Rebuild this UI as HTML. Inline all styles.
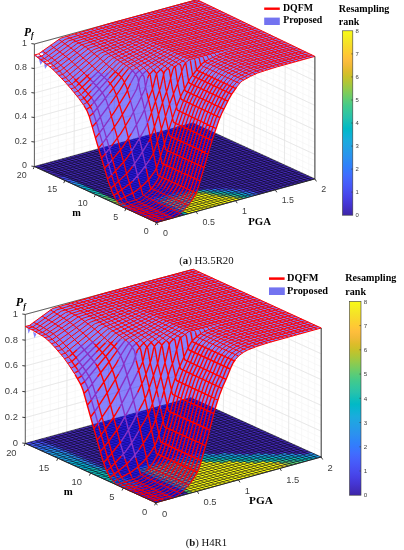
<!DOCTYPE html>
<html lang="en">
<head>
<meta charset="utf-8">
<title>Fragility surfaces: DQFM vs Proposed</title>
<style>
html,body{margin:0;padding:0;background:#fff;}
body{width:404px;height:550px;overflow:hidden;font-family:"Liberation Sans",sans-serif;}
svg{display:block;}
</style>
</head>
<body>
<svg width="404" height="550" viewBox="0 0 404 550">
<defs><linearGradient id="par" x1="0" y1="1" x2="0" y2="0"><stop offset="0%" stop-color="#3e26a8"/><stop offset="3.1%" stop-color="#422ebf"/><stop offset="6.2%" stop-color="#4536d5"/><stop offset="9.4%" stop-color="#4741e5"/><stop offset="12.5%" stop-color="#484cef"/><stop offset="15.6%" stop-color="#4757f7"/><stop offset="18.8%" stop-color="#4562fc"/><stop offset="21.9%" stop-color="#3f6efe"/><stop offset="25%" stop-color="#347afd"/><stop offset="28.1%" stop-color="#2e85f8"/><stop offset="31.2%" stop-color="#2c90f0"/><stop offset="34.4%" stop-color="#269ae9"/><stop offset="37.5%" stop-color="#21a3e3"/><stop offset="40.6%" stop-color="#1aacdd"/><stop offset="43.8%" stop-color="#0cb3d3"/><stop offset="46.9%" stop-color="#01b9c6"/><stop offset="50%" stop-color="#12beb9"/><stop offset="53.1%" stop-color="#28c2ab"/><stop offset="56.2%" stop-color="#34c79c"/><stop offset="59.4%" stop-color="#44ca8a"/><stop offset="62.5%" stop-color="#5ccc76"/><stop offset="65.6%" stop-color="#77cc60"/><stop offset="68.8%" stop-color="#94ca4a"/><stop offset="71.9%" stop-color="#afc637"/><stop offset="75%" stop-color="#c8c129"/><stop offset="78.1%" stop-color="#debc2a"/><stop offset="81.2%" stop-color="#f1ba37"/><stop offset="84.4%" stop-color="#febe3c"/><stop offset="87.5%" stop-color="#feca33"/><stop offset="90.6%" stop-color="#f9d62d"/><stop offset="93.8%" stop-color="#f5e327"/><stop offset="96.9%" stop-color="#f6ef20"/><stop offset="100%" stop-color="#f9fb15"/></linearGradient></defs>
<rect width="404" height="550" fill="#fff"/>
<g id="plot-a">
<path d="M34.4 166.5L34.4 44M42.3 164.3L42.5 41.8M50.2 162.1L50.7 39.6M58.2 160L58.8 37.4M66.1 157.8L66.9 35.1M74 155.6L75 32.9M81.9 153.4L83.2 30.7M89.8 151.2L91.3 28.5M97.8 149.1L99.4 26.3M105.7 146.9L107.6 24.1M113.6 144.7L115.7 21.8M121.5 142.5L123.8 19.6M129.4 140.3L132 17.4M137.4 138.2L140.1 15.2M145.3 136L148.2 13M153.2 133.8L156.3 10.8M161.1 131.6L164.5 8.5M169 129.4L172.6 6.3M177 127.3L180.7 4.1M184.9 125.1L188.9 1.9M192.8 122.9L197 -0.3M34.4 166.5L192.8 122.9M192.8 122.9L314.9 178.9M34.4 160.4L193 116.7M193 116.7L314.9 172.8M34.4 154.2L193.2 110.6M193.2 110.6L314.9 166.7M34.4 148.1L193.4 104.4M193.4 104.4L314.9 160.5M34.4 142L193.6 98.3M193.6 98.3L314.9 154.4M34.4 135.9L193.8 92.1M193.8 92.1L314.9 148.3M34.4 129.8L194.1 85.9M194.1 85.9L314.9 142.2M34.4 123.6L194.3 79.8M194.3 79.8L314.9 136M34.4 117.5L194.5 73.6M194.5 73.6L314.9 129.9M34.4 111.4L194.7 67.5M194.7 67.5L314.9 123.8M34.4 105.2L194.9 61.3M194.9 61.3L314.9 117.7M34.4 99.1L195.1 55.1M195.1 55.1L314.9 111.5M34.4 93L195.3 49M195.3 49L314.9 105.4M34.4 86.9L195.5 42.8M195.5 42.8L314.9 99.3M34.4 80.7L195.7 36.6M195.7 36.6L314.9 93.1M34.4 74.6L195.9 30.5M195.9 30.5L314.9 87M34.4 68.5L196.2 24.3M196.2 24.3L314.9 80.9M34.4 62.4L196.4 18.2M196.4 18.2L314.9 74.8M34.4 56.2L196.6 12M196.6 12L314.9 68.7M34.4 50.1L196.8 5.8M196.8 5.8L314.9 62.5M34.4 44L197 -0.3M197 -0.3L314.9 56.4M314.9 178.9L314.9 56.4M308.8 176.1L309 53.6M302.7 173.3L303.1 50.7M296.6 170.5L297.2 47.9M290.5 167.7L291.3 45.1M284.4 164.9L285.4 42.2M278.3 162.1L279.5 39.4M272.2 159.3L273.6 36.5M266.1 156.5L267.7 33.7M260 153.7L261.8 30.9M253.8 150.9L255.9 28M247.7 148.1L250.1 25.2M241.6 145.3L244.2 22.4M235.5 142.5L238.3 19.5M229.4 139.7L232.4 16.7M223.3 136.9L226.5 13.9M217.2 134.1L220.6 11M211.1 131.3L214.7 8.2M205 128.5L208.8 5.4M198.9 125.7L202.9 2.5M192.8 122.9L197 -0.3" stroke="#f3f3f3" stroke-width=".6" fill="none"/>
<path d="M34.4 166.5L34.4 44M74 155.6L75 32.9M113.6 144.7L115.7 21.8M153.2 133.8L156.3 10.8M192.8 122.9L197 -0.3M34.4 166.5L192.8 122.9M192.8 122.9L314.9 178.9M34.4 142L193.6 98.3M193.6 98.3L314.9 154.4M34.4 117.5L194.5 73.6M194.5 73.6L314.9 129.9M34.4 93L195.3 49M195.3 49L314.9 105.4M34.4 68.5L196.2 24.3M196.2 24.3L314.9 80.9M34.4 44L197 -0.3M197 -0.3L314.9 56.4M314.9 178.9L314.9 56.4M284.4 164.9L285.4 42.2M253.8 150.9L255.9 28M223.3 136.9L226.5 13.9M192.8 122.9L197 -0.3" stroke="#e2e2e2" stroke-width=".7" fill="none"/>
<polygon points="156.5,222.5 34.4,166.5 192.8,122.9 314.9,178.9" fill="#4329b6"/>
<polygon points="184.2,214.9 188.2,213.8 185.1,212.4 181.2,213.5" fill="#12beb9"/>
<polygon points="188.2,213.8 239.7,199.6 236.6,198.2 185.1,212.4" fill="#f9fb15"/>
<polygon points="239.7,199.6 243.6,198.5 240.6,197.1 236.6,198.2" fill="#94ca4a"/>
<polygon points="243.6,198.5 247.6,197.4 244.5,196 240.6,197.1" fill="#34c79c"/>
<polygon points="247.6,197.4 251.5,196.3 248.5,194.9 244.5,196" fill="#0cb3d3"/>
<polygon points="251.5,196.3 255.5,195.2 252.4,193.8 248.5,194.9" fill="#2c90f0"/>
<polygon points="255.5,195.2 259.5,194.2 256.4,192.8 252.4,193.8" fill="#4562fc"/>
<polygon points="181.2,213.5 185.1,212.4 182.1,211 178.1,212.1" fill="#12beb9"/>
<polygon points="185.1,212.4 236.6,198.2 233.6,196.8 182.1,211" fill="#f9fb15"/>
<polygon points="236.6,198.2 240.6,197.1 237.5,195.7 233.6,196.8" fill="#5ccc76"/>
<polygon points="240.6,197.1 244.5,196 241.5,194.6 237.5,195.7" fill="#12beb9"/>
<polygon points="244.5,196 248.5,194.9 245.4,193.5 241.5,194.6" fill="#0cb3d3"/>
<polygon points="248.5,194.9 252.4,193.8 249.4,192.4 245.4,193.5" fill="#2c90f0"/>
<polygon points="252.4,193.8 256.4,192.8 253.4,191.4 249.4,192.4" fill="#4562fc"/>
<polygon points="178.1,212.1 182.1,211 179,209.6 175.1,210.7" fill="#12beb9"/>
<polygon points="182.1,211 229.6,197.9 226.5,196.5 179,209.6" fill="#f9fb15"/>
<polygon points="229.6,197.9 233.6,196.8 230.5,195.4 226.5,196.5" fill="#94ca4a"/>
<polygon points="233.6,196.8 237.5,195.7 234.5,194.3 230.5,195.4" fill="#34c79c"/>
<polygon points="237.5,195.7 241.5,194.6 238.4,193.2 234.5,194.3" fill="#12beb9"/>
<polygon points="241.5,194.6 245.4,193.5 242.4,192.1 238.4,193.2" fill="#21a3e3"/>
<polygon points="245.4,193.5 249.4,192.4 246.3,191.1 242.4,192.1" fill="#347afd"/>
<polygon points="249.4,192.4 253.4,191.4 250.3,190 246.3,191.1" fill="#484cef"/>
<polygon points="175.1,210.7 179,209.6 176,208.2 172,209.3" fill="#12beb9"/>
<polygon points="179,209.6 222.6,197.6 219.5,196.2 176,208.2" fill="#f9fb15"/>
<polygon points="222.6,197.6 226.5,196.5 223.5,195.1 219.5,196.2" fill="#94ca4a"/>
<polygon points="226.5,196.5 230.5,195.4 227.4,194 223.5,195.1" fill="#5ccc76"/>
<polygon points="230.5,195.4 234.5,194.3 231.4,192.9 227.4,194" fill="#12beb9"/>
<polygon points="234.5,194.3 238.4,193.2 235.4,191.8 231.4,192.9" fill="#0cb3d3"/>
<polygon points="238.4,193.2 242.4,192.1 239.3,190.7 235.4,191.8" fill="#2c90f0"/>
<polygon points="242.4,192.1 246.3,191.1 243.3,189.7 239.3,190.7" fill="#4562fc"/>
<polygon points="246.3,191.1 250.3,190 247.2,188.6 243.3,189.7" fill="#4536d5"/>
<polygon points="172,209.3 176,208.2 172.9,206.8 169,207.9" fill="#12beb9"/>
<polygon points="176,208.2 219.5,196.2 216.5,194.8 172.9,206.8" fill="#f9fb15"/>
<polygon points="219.5,196.2 223.5,195.1 220.4,193.7 216.5,194.8" fill="#5ccc76"/>
<polygon points="223.5,195.1 227.4,194 224.4,192.6 220.4,193.7" fill="#34c79c"/>
<polygon points="227.4,194 231.4,192.9 228.4,191.5 224.4,192.6" fill="#0cb3d3"/>
<polygon points="231.4,192.9 235.4,191.8 232.3,190.4 228.4,191.5" fill="#21a3e3"/>
<polygon points="235.4,191.8 239.3,190.7 236.3,189.3 232.3,190.4" fill="#347afd"/>
<polygon points="239.3,190.7 243.3,189.7 240.2,188.2 236.3,189.3" fill="#484cef"/>
<polygon points="169,207.9 172.9,206.8 169.9,205.4 165.9,206.5" fill="#12beb9"/>
<polygon points="172.9,206.8 212.5,195.9 209.5,194.5 169.9,205.4" fill="#f9fb15"/>
<polygon points="212.5,195.9 216.5,194.8 213.4,193.4 209.5,194.5" fill="#94ca4a"/>
<polygon points="216.5,194.8 220.4,193.7 217.4,192.3 213.4,193.4" fill="#34c79c"/>
<polygon points="220.4,193.7 224.4,192.6 221.3,191.2 217.4,192.3" fill="#12beb9"/>
<polygon points="224.4,192.6 228.4,191.5 225.3,190.1 221.3,191.2" fill="#21a3e3"/>
<polygon points="228.4,191.5 232.3,190.4 229.3,189 225.3,190.1" fill="#347afd"/>
<polygon points="232.3,190.4 236.3,189.3 233.2,187.9 229.3,189" fill="#484cef"/>
<polygon points="165.9,206.5 169.9,205.4 166.8,204 162.9,205.1" fill="#12beb9"/>
<polygon points="169.9,205.4 209.5,194.5 206.4,193.1 166.8,204" fill="#f9fb15"/>
<polygon points="209.5,194.5 213.4,193.4 210.4,192 206.4,193.1" fill="#5ccc76"/>
<polygon points="213.4,193.4 217.4,192.3 214.3,190.9 210.4,192" fill="#12beb9"/>
<polygon points="217.4,192.3 221.3,191.2 218.3,189.8 214.3,190.9" fill="#21a3e3"/>
<polygon points="221.3,191.2 225.3,190.1 222.3,188.7 218.3,189.8" fill="#347afd"/>
<polygon points="225.3,190.1 229.3,189 226.2,187.6 222.3,188.7" fill="#484cef"/>
<polygon points="162.9,205.1 166.8,204 163.8,202.6 159.8,203.7" fill="#12beb9"/>
<polygon points="166.8,204 202.5,194.2 199.4,192.8 163.8,202.6" fill="#f9fb15"/>
<polygon points="202.5,194.2 206.4,193.1 203.4,191.7 199.4,192.8" fill="#94ca4a"/>
<polygon points="206.4,193.1 210.4,192 207.3,190.6 203.4,191.7" fill="#34c79c"/>
<polygon points="210.4,192 214.3,190.9 211.3,189.5 207.3,190.6" fill="#21a3e3"/>
<polygon points="214.3,190.9 218.3,189.8 215.2,188.4 211.3,189.5" fill="#347afd"/>
<polygon points="218.3,189.8 222.3,188.7 219.2,187.3 215.2,188.4" fill="#4536d5"/>
<polygon points="159.8,203.7 163.8,202.6 160.7,201.2 156.7,202.3" fill="#12beb9"/>
<polygon points="163.8,202.6 195.4,193.9 192.4,192.5 160.7,201.2" fill="#f9fb15"/>
<polygon points="195.4,193.9 199.4,192.8 196.3,191.4 192.4,192.5" fill="#94ca4a"/>
<polygon points="199.4,192.8 203.4,191.7 200.3,190.3 196.3,191.4" fill="#34c79c"/>
<polygon points="203.4,191.7 207.3,190.6 204.3,189.2 200.3,190.3" fill="#21a3e3"/>
<polygon points="207.3,190.6 211.3,189.5 208.2,188.1 204.3,189.2" fill="#484cef"/>
<polygon points="129,209.9 134.6,208.4 131.5,207 126,208.5" fill="#484cef"/>
<polygon points="156.7,202.3 160.7,201.2 157.7,199.8 153.7,200.9" fill="#2c90f0"/>
<polygon points="160.7,201.2 192.4,192.5 189.3,191.1 157.7,199.8" fill="#5ccc76"/>
<polygon points="192.4,192.5 196.3,191.4 193.3,190 189.3,191.1" fill="#12beb9"/>
<polygon points="196.3,191.4 200.3,190.3 197.3,188.9 193.3,190" fill="#4562fc"/>
<polygon points="126,208.5 131.5,207 128.5,205.6 122.9,207.1" fill="#21a3e3"/>
<polygon points="153.7,200.9 157.7,199.8 154.6,198.4 150.6,199.5" fill="#4562fc"/>
<polygon points="157.7,199.8 181.4,193.2 178.4,191.8 154.6,198.4" fill="#21a3e3"/>
<polygon points="181.4,193.2 185.4,192.2 182.3,190.8 178.4,191.8" fill="#2c90f0"/>
<polygon points="122.9,207.1 128.5,205.6 125.4,204.2 119.9,205.7" fill="#34c79c"/>
<polygon points="150.6,199.5 154.6,198.4 151.6,197 147.6,198.1" fill="#4536d5"/>
<polygon points="154.6,198.4 158.6,197.3 155.5,195.9 151.6,197" fill="#484cef"/>
<polygon points="119.9,205.7 125.4,204.2 122.4,202.8 116.8,204.3" fill="#94ca4a"/>
<polygon points="116.8,204.3 122.4,202.8 119.3,201.4 113.8,202.9" fill="#94ca4a"/>
<polygon points="113.8,202.9 119.3,201.4 116.3,200 110.7,201.5" fill="#94ca4a"/>
<polygon points="110.7,201.5 116.3,200 113.2,198.6 107.7,200.1" fill="#5ccc76"/>
<polygon points="107.7,200.1 113.2,198.6 110.2,197.2 104.6,198.7" fill="#5ccc76"/>
<polygon points="104.6,198.7 110.2,197.2 107.1,195.8 101.6,197.3" fill="#5ccc76"/>
<polygon points="101.6,197.3 107.1,195.8 104,194.4 98.5,195.9" fill="#34c79c"/>
<polygon points="98.5,195.9 104,194.4 101,193 95.5,194.5" fill="#34c79c"/>
<polygon points="95.5,194.5 101,193 97.9,191.6 92.4,193.1" fill="#12beb9"/>
<polygon points="92.4,193.1 97.9,191.6 94.9,190.2 89.3,191.7" fill="#12beb9"/>
<polygon points="89.3,191.7 94.9,190.2 91.8,188.8 86.3,190.3" fill="#12beb9"/>
<polygon points="86.3,190.3 91.8,188.8 88.8,187.4 83.2,188.9" fill="#0cb3d3"/>
<polygon points="83.2,188.9 88.8,187.4 85.7,186 80.2,187.5" fill="#0cb3d3"/>
<polygon points="80.2,187.5 85.7,186 82.7,184.6 77.1,186.1" fill="#21a3e3"/>
<polygon points="77.1,186.1 82.7,184.6 79.6,183.2 74.1,184.7" fill="#21a3e3"/>
<polygon points="74.1,184.7 79.6,183.2 76.6,181.8 71,183.3" fill="#2c90f0"/>
<polygon points="71,183.3 76.6,181.8 73.5,180.4 68,181.9" fill="#347afd"/>
<polygon points="68,181.9 73.5,180.4 70.5,179 64.9,180.5" fill="#4562fc"/>
<polygon points="64.9,180.5 70.5,179 67.4,177.6 61.9,179.1" fill="#484cef"/>
<polygon points="61.9,179.1 67.4,177.6 64.4,176.2 58.8,177.7" fill="#484cef"/>
<path d="M156.5 222.5L34.4 166.5M162 221L39.9 165M164.4 220.3L42.3 164.3M168.4 219.2L46.3 163.2M172.3 218.1L50.2 162.1M176.3 217.1L54.2 161.1M180.3 216L58.2 160M184.2 214.9L62.1 158.9M188.2 213.8L66.1 157.8M192.1 212.7L70 156.7M196.1 211.6L74 155.6M200.1 210.5L78 154.5M204 209.4L81.9 153.4M208 208.3L85.9 152.3M211.9 207.2L89.8 151.2M215.9 206.2L93.8 150.2M219.9 205.1L97.8 149.1M223.8 204L101.7 148M227.8 202.9L105.7 146.9M231.7 201.8L109.6 145.8M235.7 200.7L113.6 144.7M239.7 199.6L117.6 143.6M243.6 198.5L121.5 142.5M247.6 197.4L125.5 141.4M251.5 196.3L129.4 140.3M255.5 195.2L133.4 139.2M259.5 194.2L137.4 138.2M263.4 193.1L141.3 137.1M267.4 192L145.3 136M271.3 190.9L149.2 134.9M275.3 189.8L153.2 133.8M279.3 188.7L157.2 132.7M283.2 187.6L161.1 131.6M287.2 186.5L165.1 130.5M291.1 185.4L169 129.4M295.1 184.4L173 128.4M299.1 183.3L177 127.3M303 182.2L180.9 126.2M307 181.1L184.9 125.1M310.9 180L188.8 124M314.9 178.9L192.8 122.9M156.5 222.5L314.9 178.9M153.4 221.1L311.8 177.5M150.4 219.7L308.8 176.1M147.3 218.3L305.7 174.7M144.3 216.9L302.7 173.3M141.2 215.5L299.6 171.9M138.2 214.1L296.6 170.5M135.1 212.7L293.5 169.1M132.1 211.3L290.5 167.7M129 209.9L287.4 166.3M126 208.5L284.4 164.9M122.9 207.1L281.3 163.5M119.9 205.7L278.3 162.1M116.8 204.3L275.2 160.7M113.8 202.9L272.2 159.3M110.7 201.5L269.1 157.9M107.7 200.1L266.1 156.5M104.6 198.7L263 155.1M101.6 197.3L260 153.7M98.5 195.9L256.9 152.3M95.5 194.5L253.8 150.9M92.4 193.1L250.8 149.5M89.3 191.7L247.7 148.1M86.3 190.3L244.7 146.7M83.2 188.9L241.6 145.3M80.2 187.5L238.6 143.9M77.1 186.1L235.5 142.5M74.1 184.7L232.5 141.1M71 183.3L229.4 139.7M68 181.9L226.4 138.3M64.9 180.5L223.3 136.9M61.9 179.1L220.3 135.5M58.8 177.7L217.2 134.1M55.8 176.3L214.2 132.7M52.7 174.9L211.1 131.3M49.7 173.5L208.1 129.9M46.6 172.1L205 128.5M43.6 170.7L202 127.1M40.5 169.3L198.9 125.7M37.5 167.9L195.9 124.3M34.4 166.5L192.8 122.9" stroke="#000" stroke-opacity="0.72" stroke-width="0.7" fill="none"/>
<path d="M34.4 44L197 -0.3M34.4 166.5L34.4 44" stroke="#3c3c3c" stroke-width=".8" fill="none"/>
<polygon points="156.5,222.5 155.7,222.2 155,221.8 154.2,221.4 153.4,221.1 152.7,220.8 151.9,220.4 151.2,220.1 150.4,219.7 149.6,219.3 148.9,219 148.1,218.7 147.3,218.3 146.6,217.9 145.8,217.6 145.1,217.2 144.3,216.9 143.5,216.6 142.8,216.2 142,215.8 141.2,215.5 140.5,215.2 139.7,214.8 138.9,214.4 138.2,214.1 137.4,213.8 136.7,213.4 135.9,213.1 135.1,212.7 134.4,212.3 133.6,212 132.8,211.7 132.1,211.3 131.3,210.9 130.6,210.6 129.8,210.2 129,209.9 128.3,209.6 127.5,209.2 126.7,208.8 126,208.5 125.2,208.2 124.4,207.8 123.7,207.4 122.9,207.1 122.2,206.7 121.4,206 120.6,205.3 119.9,204.6 119.1,203.8 118.3,203 117.6,202 116.8,200.9 116.1,199.6 115.3,198.3 114.5,196.9 113.8,195.4 113,193.7 112.2,192 111.5,190.1 110.7,188.2 109.9,186.1 109.2,184 108.4,181.6 107.7,179 106.9,176.3 106.1,173.5 105.4,170.8 104.6,168.2 103.8,165.7 103.1,163.1 102.3,160.6 101.6,158.1 100.8,155.5 100,153.1 99.3,150.6 98.5,148.2 97.7,145.8 97,143.3 96.2,140.7 95.5,137.9 94.7,135.1 93.9,132.3 93.2,129.5 92.4,126.7 91.6,124.1 90.9,121.5 90.1,119 89.3,116.6 88.6,114.5 87.8,112.6 87.1,111 86.3,109.5 85.5,108.1 84.8,106.9 84,105.7 83.2,104.6 82.5,103.5 81.7,102.4 81,101.4 80.2,100.3 79.4,99.3 78.7,98.3 77.9,97.3 77.1,96.4 76.4,95.4 75.6,94.4 74.8,93.5 74.1,92.5 73.3,91.6 72.6,90.7 71.8,89.8 71,88.9 70.3,88 69.5,87.1 68.7,86.2 68,85.3 67.2,84.5 66.5,83.6 65.7,82.8 64.9,82 64.2,81.2 63.4,80.4 62.6,79.6 61.9,78.7 61.1,77.9 60.3,77.1 59.6,76.3 58.8,75.5 58.1,74.7 57.3,73.9 56.5,73.1 55.8,72.4 55,71.6 54.2,70.9 53.5,70.1 52.7,69.4 52,68.7 51.2,68 50.4,67.4 49.7,66.7 48.9,66.1 48.1,65.5 47.4,64.9 46.6,64.3 45.8,63.7 45.1,63.1 44.3,62.5 43.6,61.9 42.8,61.3 42,60.8 41.3,60.2 40.5,59.6 39.7,59.1 39,58.5 38.2,57.9 37.5,57.4 36.7,56.8 35.9,56.2 35.2,55.6 34.4,55 34.4,55 35.4,54.7 36.4,54.5 37.4,54.2 38.5,53.9 39.5,53.2 40.5,52.5 41.5,51.7 42.5,51 43.5,50.3 44.5,49.6 45.6,48.8 46.6,48.1 47.6,47.4 48.6,46.7 49.6,45.9 50.6,45.2 51.7,44.5 52.7,43.8 53.7,43 54.7,42.3 55.7,41.6 56.7,40.8 57.8,40.1 58.8,39.4 59.8,38.7 60.8,38.1 61.8,37.8 62.8,37.5 63.9,37.2 64.9,36.9 65.9,36.6 66.9,36.3 67.9,36 68.9,35.7 70,35.4 71,35.1 72,34.8 73,34.5 74,34.2 75,33.9 76.1,33.6 77.1,33.3 78.1,33 79.1,32.7 80.1,32.4 81.1,32 82.2,31.7 83.2,31.4 84.2,31.1 85.2,30.8 86.2,30.5 87.2,30.2 88.3,29.9 89.3,29.6 90.3,29.3 91.3,29 92.3,28.7 93.3,28.4 94.4,28.1 95.4,27.8 96.4,27.5 97.4,27.2 98.4,26.9 99.4,26.6 100.5,26.3 101.5,26 102.5,25.7 103.5,25.4 104.5,25.1 105.5,24.8 106.6,24.5 107.6,24.2 108.6,23.9 109.6,23.6 110.6,23.3 111.6,22.9 112.7,22.7 113.7,22.4 114.7,22.1 115.7,21.8 116.7,21.6 117.7,21.3 118.7,21 119.8,20.7 120.8,20.5 121.8,20.2 122.8,19.9 123.8,19.6 124.8,19.3 125.9,19.1 126.9,18.8 127.9,18.5 128.9,18.2 129.9,18 130.9,17.7 132,17.4 133,17.1 134,16.9 135,16.6 136,16.3 137,16 138.1,15.7 139.1,15.5 140.1,15.2 141.1,14.9 142.1,14.6 143.1,14.4 144.2,14.1 145.2,13.8 146.2,13.5 147.2,13.3 148.2,13 149.2,12.7 150.3,12.4 151.3,12.1 152.3,11.9 153.3,11.6 154.3,11.3 155.3,11 156.3,10.8 157.4,10.5 158.4,10.2 159.4,9.9 160.4,9.7 161.4,9.4 162.4,9.1 163.5,8.8 164.5,8.5 165.5,8.3 166.5,8 167.5,7.7 168.5,7.4 169.6,7.2 170.6,6.9 171.6,6.6 172.6,6.3 173.6,6.1 174.6,5.8 175.7,5.5 176.7,5.2 177.7,4.9 178.7,4.7 179.7,4.4 180.7,4.1 181.8,3.8 182.8,3.6 183.8,3.3 184.8,3 185.8,2.7 186.8,2.5 187.9,2.2 188.9,1.9 189.9,1.6 190.9,1.3 191.9,1.1 192.9,0.8 194,0.5 195,0.2 196,0 197,-0.3 197,-0.3 197.7,0 198.5,0.4 199.2,0.7 199.9,1.1 200.7,1.5 201.4,1.8 202.2,2.2 202.9,2.5 203.6,2.9 204.4,3.2 205.1,3.6 205.8,3.9 206.6,4.3 207.3,4.6 208.1,5 208.8,5.4 209.5,5.7 210.3,6.1 211,6.4 211.7,6.8 212.5,7.1 213.2,7.5 213.9,7.8 214.7,8.2 215.4,8.5 216.2,8.9 216.9,9.3 217.6,9.6 218.4,10 219.1,10.3 219.8,10.7 220.6,11 221.3,11.4 222.1,11.7 222.8,12.1 223.5,12.4 224.3,12.8 225,13.2 225.7,13.5 226.5,13.9 227.2,14.2 227.9,14.6 228.7,14.9 229.4,15.3 230.2,15.6 230.9,16 231.6,16.3 232.4,16.7 233.1,17.1 233.8,17.4 234.6,17.8 235.3,18.1 236.1,18.5 236.8,18.8 237.5,19.2 238.3,19.5 239,19.9 239.7,20.2 240.5,20.6 241.2,21 241.9,21.3 242.7,21.7 243.4,22 244.2,22.4 244.9,22.7 245.6,23.1 246.4,23.4 247.1,23.8 247.8,24.1 248.6,24.5 249.3,24.8 250.1,25.2 250.8,25.6 251.5,25.9 252.3,26.3 253,26.6 253.7,27 254.5,27.3 255.2,27.7 255.9,28 256.7,28.4 257.4,28.7 258.2,29.1 258.9,29.5 259.6,29.8 260.4,30.2 261.1,30.5 261.8,30.9 262.6,31.2 263.3,31.6 264.1,31.9 264.8,32.3 265.5,32.6 266.3,33 267,33.4 267.7,33.7 268.5,34.1 269.2,34.4 270,34.8 270.7,35.1 271.4,35.5 272.2,35.8 272.9,36.2 273.6,36.5 274.4,36.9 275.1,37.3 275.8,37.6 276.6,38 277.3,38.3 278.1,38.7 278.8,39 279.5,39.4 280.3,39.7 281,40.1 281.7,40.4 282.5,40.8 283.2,41.2 284,41.5 284.7,41.9 285.4,42.2 286.2,42.6 286.9,42.9 287.6,43.3 288.4,43.6 289.1,44 289.8,44.3 290.6,44.7 291.3,45.1 292.1,45.4 292.8,45.8 293.5,46.1 294.3,46.5 295,46.8 295.7,47.2 296.5,47.5 297.2,47.9 298,48.2 298.7,48.6 299.4,49 300.2,49.3 300.9,49.7 301.6,50 302.4,50.4 303.1,50.7 303.8,51.1 304.6,51.4 305.3,51.8 306.1,52.1 306.8,52.5 307.5,52.9 308.3,53.2 309,53.6 309.7,53.9 310.5,54.3 311.2,54.6 312,55 312.7,55.3 313.4,55.7 314.2,56 314.9,56.4 314.9,56.4 313.9,56.7 312.9,56.9 311.9,57.2 310.9,57.5 309.9,57.8 309,58 308,58.3 307,58.6 306,58.9 305,59.1 304,59.4 303,59.7 302,59.9 301,60.2 300,60.5 299.1,60.8 298.1,61 297.1,61.3 296.1,61.6 295.1,61.9 294.1,62.1 293.1,62.4 292.1,62.7 291.1,62.9 290.1,63.2 289.2,63.5 288.2,63.8 287.2,64 286.2,64.3 285.2,64.6 284.2,64.8 283.2,65.1 282.2,65.4 281.2,65.7 280.2,66 279.3,66.2 278.3,66.5 277.3,66.8 276.3,67.1 275.3,67.4 274.3,67.7 273.3,68 272.3,68.3 271.3,68.6 270.3,68.9 269.4,69.2 268.4,69.5 267.4,69.8 266.4,70.1 265.4,70.4 264.4,70.8 263.4,71.1 262.4,71.4 261.4,71.7 260.4,72.1 259.5,72.4 258.5,72.8 257.5,73.1 256.5,73.5 255.5,74 254.5,74.4 253.5,74.8 252.5,75.3 251.5,75.8 250.5,76.3 249.6,76.8 248.6,77.3 247.6,77.8 246.6,78.4 245.6,78.9 244.6,79.5 243.6,80.1 242.6,80.7 241.6,81.4 240.6,82.3 239.7,83.4 238.7,84.6 237.7,85.8 236.7,87.1 235.7,88.5 234.7,89.9 233.7,91.3 232.7,92.7 231.7,94.2 230.8,95.8 229.8,97.4 228.8,99.2 227.8,101.2 226.8,103.4 225.8,105.5 224.8,107.3 223.8,109.2 222.8,111.2 221.8,113.3 220.8,115.4 219.9,117.7 218.9,120.2 217.9,122.8 216.9,125.6 215.9,128.5 214.9,131.4 213.9,134.4 212.9,137.5 211.9,140.5 210.9,143.7 210,147.1 209,150.5 208,153.9 207,157.4 206,160.9 205,164.3 204,167.6 203,170.8 202,174.1 201.1,177.6 200.1,181 199.1,184.3 198.1,187.5 197.1,190.4 196.1,193 195.1,195.2 194.1,197 193.1,198.6 192.1,200.1 191.1,201.5 190.2,202.9 189.2,204.2 188.2,205.4 187.2,206.6 186.2,207.7 185.2,208.7 184.2,209.7 183.2,210.6 182.2,211.5 181.2,212.3 180.3,213.1 179.3,213.9 178.3,214.7 177.3,215.4 176.3,216.1 175.3,216.8 174.3,217.5 173.3,217.9 172.3,218.1 171.3,218.4 170.4,218.7 169.4,219 168.4,219.2 167.4,219.5 166.4,219.8 165.4,220 164.4,220.3 163.4,220.6 162.4,220.9 161.4,221.1 160.5,221.4 159.5,221.7 158.5,222 157.5,222.2 156.5,222.5" fill="#0f0afa" fill-opacity="0.5"/>
<polygon points="38.5,57.5 43.5,60.5 40.5,65" fill="#0f0afa" fill-opacity="0.5"/>
<polygon points="44,62 47.5,65.5 45,69" fill="#0f0afa" fill-opacity="0.5"/>
<polygon points="36.2,53.9 42.6,53 43.2,55 37.2,56" fill="#fff"/>
<polygon points="45.2,60.2 49.3,60.9 49.8,62.8 46.2,62.5" fill="#fff"/>
<polygon points="49.2,64.6 51.4,65.1 51.9,67.3 50.1,66.9" fill="#fff"/>
<path d="M111.6 175.1L107.8 161.3L96.4 122.3L94.1 115.1L91.8 109.4M111 153.8L101.1 119.4L98.1 109.9L96.6 106.1L95.1 103.2L91.3 97.7M109.9 111.1L106.1 99.9L104.6 96.5L103.1 93.9L99.3 89L90.2 79.3M138.3 178.7L130.8 147.9M108.1 81.1L98.2 71.6M146.3 169L135.7 121.3L132.7 108.9L129.7 98M147.5 123.2L143 102.5L140 90.6L137.8 77.8L134.8 73.1L131.7 69.7M147 93.1L145.5 86.8L144.1 76.9L141.8 73.3L139.5 70.6M132.6 181.2L140.5 172.3L149.5 160M132.5 166.5L138.5 158.1L148.5 142.1M111.6 175.1L112.6 174.1M131.5 151.2L135.5 144.9L143.5 131.3L146.5 125.6L148.5 120.8M108.6 164L112.6 159.3M131.5 133.4L139.5 119.4L142.5 113.7L145.5 106.9L148.5 99.1M105.5 153.5L111.5 145.9M130.5 117.5L138.5 102.8L144.5 90L145.5 86.8L147.6 78.3M102.5 143.4L111.5 131.2M130.5 100.5L136.5 89.5L139.5 79.1L140.5 76.8L143.6 73.2L146.6 70.4M99.4 133.1L110.4 117.7M130.5 83.5L135.5 74.2L139.5 70.6M96.4 122.3L110.4 103.5M129.5 74.5L132.5 70.4L133.5 69.7M93.3 113L109.4 93.2M92.3 104.3L109.3 84.7M92.3 96.6L109.3 78M91.2 90.9L108.3 73.2M91.2 84.5L102.3 73.6M91.2 78.3L98.2 71.6" stroke="#8a30c4" stroke-width="1.3" fill="none" stroke-linejoin="round"/>
<path d="M115.3 198.3L112.2 192L108.4 181.6L103.8 165.7L97 143.3L89.3 116.6L87.1 111L84 105.7M121.5 200.4L118.5 194.4L116.2 188.9L113.2 180.4L111.6 175.1M91.8 109.4L88.8 104.3L82.7 96.5M126.3 200L122.5 191.7L118.6 181.2L116.4 173.7L111 153.8M91.3 97.7L82.9 87.9L74.5 78.8M134.2 197.2L130.4 186.2L126.6 173.6L116.7 135.3L109.9 111.1M90.2 79.3L85.6 74.6M142.9 195L138.3 178.7M130.8 147.9L124 120.1L117.9 99.3L115.6 93.1L113.4 88.2L111.1 84.6L108.1 81.1M151.6 188.5L150.8 188.2L150 186.6L146.3 169M129.7 98L126.7 87.5L123.7 80.9L122.2 78.5L119.9 75.7L115.4 71.5M196.1 193L158 175.5L147.5 123.2M200.1 181L162 163.4L151.5 112.4L147 93.1M204 167.6L166 150L165.2 147.6L157 107.6L152.5 89.1L150.3 75.3L148.8 73.1L146.6 70.4M208 153.9L170 136.2L169.3 134.5L163.3 105.8L158.8 86.8L156.6 73.6L153.6 70M211.9 140.5L174 122.7L173.3 121.7L168.8 100.8L165.8 88.6L163.6 74.5L162.9 71.7L160.6 69.3M215.9 128.5L177.3 110.1L172.1 87.5L169.9 73.2L169.2 69.7L167.7 68.3M219.9 117.7L181.3 99.3L178.4 87.3L176.9 78.6L175.4 67.7L173.9 66.3M223.8 109.2L185.3 90.8L184.6 88.9L183.9 85.5L180.9 66L180.2 64.6L179.4 64.2M227.8 101.2L189.4 83.1L188.6 81.2L185.7 62.5M231.7 94.2L193.4 76.2L192.6 75L190.4 61.1M235.7 88.5L196.6 70.2L195.2 60.9M201.4 65.5L200.7 65.1L199.2 58.1M204.7 61.7L203.9 59.3M191.1 201.5L195.1 195.2L197.1 190.4L199.1 184.3L211.9 140.5L218.9 120.2L221.8 113.3L228.8 99.2L231.7 94.2L236.7 87.1M188.1 200.1L192.1 193.8L194 189L196 182.9L208.9 139.1L215.8 118.7L218.8 111.9L225.8 97.8L228.7 92.7L233.7 85.7M185 198.7L189 192.4L191 187.6L193 181.5L205.9 137.7L212.8 117.3L215.8 110.4L222.7 96.4L225.7 91.3L230.7 84.3M182 197.3L186 191L187.9 186.2L189.9 180.1L202.8 136.3L209.8 115.9L212.8 109L219.7 95L222.7 89.9L227.7 82.9M178.9 195.9L182.9 189.6L184.9 184.8L186.9 178.7L199.8 134.8L206.8 114.4L209.8 107.5L216.7 93.6L219.7 88.5L224.7 81.5M175.9 194.5L179.9 188.2L181.9 183.4L183.8 177.3L196.8 133.4L200.8 121.3L203.8 113L206.7 106.1L213.7 92.1L216.7 87.1L221.7 80.1M172.8 193.1L176.8 186.8L178.8 182L180.8 175.9L193.7 132L197.7 119.8L200.7 111.5L203.7 104.6L210.7 90.7L213.7 85.7L218.7 78.7M169.8 191.7L173.8 185.4L175.8 180.6L177.7 174.5L190.7 130.6L194.7 118.4L197.7 110.1L200.7 103.2L207.7 89.3L210.7 84.3L215.7 77.3M166.7 190.3L170.7 184L172.7 179.2L174.7 173.1L187.7 129.1L191.7 116.9L194.7 108.6L197.7 101.7L204.7 87.9L207.7 82.9L212.7 75.9M163.7 188.9L167.7 182.6L169.7 177.8L171.7 171.7L184.6 127.7L188.7 115.5L191.7 107.2L194.7 100.3L201.7 86.5L204.7 81.5L209.7 74.5M160.6 187.5L164.6 181.2L166.6 176.4L168.6 170.3L181.6 126.3L185.6 114.1L188.6 105.7L191.6 98.8L198.6 85L201.7 80.1L206.7 73.1M157.6 186.1L161.6 179.8L163.6 175L165.6 168.9L178.6 124.8L182.6 112.6L185.6 104.3L188.6 97.4L195.6 83.6L198.6 78.7L203.7 71.6M148.6 191.5L151.6 188.5L154.5 184.7L157.5 180.1L159.5 176.2L162.5 167.5L175.6 123.4L179.6 111.2L182.6 102.9L185.6 96L192.6 82.2L195.6 77.3L200.6 70.2M118.8 200L133.7 192.5L137.6 189.7L142.6 185.6L146.5 181.7L150.5 177.2L154.5 171.7L156.5 167.9L158.5 162.7L172.5 118.1L177.6 103.9L181.6 94.5L189.6 79.4L192.6 75L201.7 64L203.7 62.4L207.7 60M113.8 195.4L117.7 192.7L127.6 185.3L132.6 181.2M149.5 160L152.5 155L154.5 150.4L169.6 104.1L176.6 86.1L183.7 65.9L185.7 62.5M110.7 188.2L115.7 183.9L126.6 173.6L129.6 170.3L132.5 166.5M148.5 142.1L149.5 140.2L152.5 132.7L163.6 99.5L167.6 89.1L169.6 82.3L172.7 70.1L173.7 67.8L176.7 65.2M107.7 179L111.6 175.1M112.6 174.1L124.5 161L127.5 157.1L131.5 151.2M148.5 120.8L160.6 87.2L163.6 74.5L164.6 71.5L167.7 68.3M104.6 168.2L108.6 164M112.6 159.3L122.5 147.3L131.5 133.4M148.5 99.1L152.5 89.1L155.6 76.8L156.6 73.6L160.6 69.3M101.6 158.1L105.5 153.5M111.5 145.9L120.5 133.9L130.5 117.5M147.6 78.3L148.6 75.4L153.6 70M98.5 148.2L102.5 143.4M111.5 131.2L118.4 121.1L125.4 109.4L130.5 100.5M95.5 137.9L99.4 133.1M110.4 117.7L115.4 110.4L126.4 92.7L127.5 89.7L130.5 83.5M92.4 126.7L96.4 122.3M110.4 103.5L120.4 89.3L125.5 80.7L129.5 74.5M89.3 116.6L93.3 113M109.4 93.2L115.4 85.7L123.4 74.8L128.5 68.6M86.3 109.5L90.3 106.7L92.3 104.3M109.3 84.7L123.4 68.4M86.2 102.8L87.2 102.2L92.3 96.6M109.3 78L115.4 71.5M84.2 98.4L91.2 90.9M82.1 93.6L91.2 84.5M79.1 90L91.2 78.3M77.1 85.5L89.1 74.3M74 82.2L79 77.6" stroke="#ff0000" stroke-width="1.3" fill="none" stroke-linejoin="round"/>
<path d="M156.5 222.5L122.2 206.7L118.3 203L115.3 198.3M84 105.7L78.7 98.3L71 88.9L65.7 82.8L56.5 73.1L52.7 69.4L48.9 66.1L34.4 55M160.5 221.4L126.9 206L123.8 203.6L121.5 200.4M82.7 96.5L71.2 83.2L58.3 69.7L51.4 63.8L38.5 53.9M164.4 220.3L131.6 205.2L130.1 204.3L127.8 202.4L126.3 200M74.5 78.8L64.6 68.8L60 64.5L53.9 59.5L42.5 51M172.3 218.1L160.9 212.9L138.8 202.1L135.7 200L134.9 199.1L134.2 197.2M85.6 74.6L73.4 63L68.1 58.3L62 53.5L50.6 45.2M180.3 213.1L147.5 197.7L142.9 195M98.2 71.6L89.9 63.8L77 52.7L69.4 46.9L58.8 39.4M188.2 205.4L151.6 188.5M115.4 71.5L109.3 66.7L98.7 57.4L86.6 47.6L79 43L66.9 36.3M131.7 69.7L127.2 66.1L117.4 59.7L106.8 52.4L97.7 46.6L88.7 41.2L75 33.9M139.5 70.6L136.5 67.7L133.5 65.4L121.4 57.8L109.3 49.8L95.7 41.6L79.1 32.7M146.6 70.4L142.8 67L139 64.2L125.4 55.9L114.9 49.2L99.8 40.2L83.2 31.4M153.6 70L149.1 66.1L140.8 60.6L107.6 41L87.2 30.2M160.6 69.3L155.4 65.1L145.6 58.9L111.7 39.5L91.3 29M167.7 68.3L161.6 64L149.6 56.8L115.7 38.1L95.4 27.8M173.9 66.3L153.6 54.7L119.8 36.7L99.4 26.6M179.4 64.2L159.9 53.7L135.1 41L103.5 25.4M185.7 62.5L161.7 50.4L107.6 24.2M190.4 61.1L189.7 59.6L111.6 22.9M195.2 60.9L194.4 58.8L115.7 21.8M239.7 83.4L201.4 65.5M199.2 58.1L119.8 20.7M243.6 80.1L204.7 61.7M203.9 59.3L203.2 57L123.8 19.6M247.6 77.8L208.7 59.5L207.2 55.9L127.9 18.5M251.5 75.8L212.7 57.4L211.2 54.8L132 17.4M255.5 74L215.9 55.3L215.2 53.7L136 16.3M259.5 72.4L219.9 53.7L219.2 52.6L140.1 15.2M263.4 71.1L223.9 52.4L223.2 51.5L144.2 14.1M267.4 69.8L227.9 51.1L227.2 50.4L148.2 13M271.3 68.6L152.3 11.9M275.3 67.4L156.3 10.8M279.3 66.2L160.4 9.7M283.2 65.1L164.5 8.5M287.2 64L168.5 7.4M291.1 62.9L172.6 6.3M295.1 61.9L176.7 5.2M299.1 60.8L180.7 4.1M303 59.7L184.8 3M307 58.6L188.9 1.9M310.9 57.5L192.9 0.8M314.9 56.4L197 -0.3M156.5 222.5L174.3 217.5L178.3 214.7L184.2 209.7L188.2 205.4L191.1 201.5M236.7 87.1L240.6 82.3L242.6 80.7L250.5 76.3L257.5 73.1L264.4 70.8L277.3 66.8L314.9 56.4M153.4 221.1L170.3 216.5L171.3 216L175.2 213.2L181.2 208.2L185.1 204L188.1 200.1M233.7 85.7L237.7 80.9L239.6 79.3L247.6 74.9L254.5 71.7L261.4 69.4L274.3 65.4L312 55M150.4 219.7L166.2 215.3L168.2 214.5L172.2 211.8L178.1 206.8L182.1 202.6L185 198.7M230.7 84.3L234.7 79.5L236.6 77.9L244.6 73.4L251.5 70.3L258.4 67.9L271.3 64L309 53.6M147.3 218.3L163.2 213.9L166.2 212.4L170.1 209.6L175.1 205.4L179 201.2L182 197.3M227.7 82.9L231.7 78.1L233.6 76.5L241.6 72L248.5 68.9L255.5 66.5L268.4 62.6L306.1 52.1M144.3 216.9L160.1 212.5L163.1 211L167.1 208.1L172 204L176 199.8L178.9 195.9M224.7 81.5L228.7 76.7L230.6 75L238.6 70.6L245.5 67.5L252.5 65.1L265.4 61.2L303.1 50.7M141.2 215.5L156.1 211.4L160 209.5L164 206.7L169 202.6L172.9 198.4L175.9 194.5M221.7 80.1L225.7 75.3L227.6 73.6L235.6 69.2L242.5 66.1L249.5 63.7L262.4 59.7L300.2 49.3M138.2 214.1L152 210.3L155 209.2L157 208.1L161 205.3L165.9 201.2L169.9 197L172.8 193.1M218.7 78.7L222.7 73.9L224.6 72.2L232.6 67.8L239.6 64.7L246.5 62.3L259.4 58.3L297.2 47.9M135.1 212.7L149 208.9L152 207.7L153.9 206.6L157.9 203.9L162.9 199.7L166.8 195.5L169.8 191.7M215.7 77.3L219.7 72.5L221.6 70.8L229.6 66.4L236.6 63.3L243.5 60.9L256.5 56.9L294.3 46.5M132.1 211.3L145 207.7L148.9 206.3L150.9 205.2L154.9 202.4L159.8 198.3L163.8 194.1L166.7 190.3M212.7 75.9L216.7 71.1L218.7 69.4L226.6 65L233.6 61.9L240.6 59.5L253.5 55.5L291.3 45.1M129 209.9L140.9 206.6L145.9 204.8L147.8 203.7L151.8 201L156.8 196.9L160.7 192.7L163.7 188.9M209.7 74.5L213.7 69.7L215.7 68L223.6 63.6L230.6 60.4L237.6 58.1L250.5 54.1L288.4 43.6M126 208.5L135.9 205.8L141.8 203.7L144.8 202.3L148.7 199.5L153.7 195.5L157.7 191.3L160.6 187.5M206.7 73.1L210.7 68.2L212.7 66.6L220.6 62.2L227.6 59L234.6 56.6L247.6 52.7L285.4 42.2M122.9 207.1L128.9 205.5L137.8 202.5L141.7 200.7L145.7 198L150.7 194L154.6 189.9L157.6 186.1M203.7 71.6L207.7 66.8L209.7 65.2L217.6 60.8L224.6 57.6L231.6 55.2L244.6 51.3L282.5 40.8M119.9 204.6L123.8 203.6L137.7 199.2L142.6 196.2L148.6 191.5M200.6 70.2L204.7 65.4L206.7 63.8L214.7 59.3L221.6 56.2L228.6 53.8L241.6 49.8L279.5 39.4M116.8 200.9L118.8 200M207.7 60L216.7 55.6L224.7 52.7L241.6 47.6L276.6 38M185.7 62.5L189.7 59.6L273.6 36.5M176.7 65.2L186.7 58.2L270.7 35.1M167.7 68.3L171.7 64.9L183.7 56.8L267.7 33.7M160.6 69.3L167.7 63.8L180.7 55.3L264.8 32.3M153.6 70L156.6 67.5L161.6 64L177.7 53.9L261.8 30.9M146.6 70.4L150.6 67.3L154.6 64.6L174.7 52.5L258.9 29.5M139.5 70.6L143.6 67.6L148.6 64.4L171.7 51.1L255.9 28M133.5 69.7L142.5 64.1L168.7 49.7L253 26.6M128.5 68.6L129.5 67.7L136.5 63.7L165.7 48.3L250.1 25.2M123.4 68.4L125.4 66.2L126.5 65.6L162.7 46.9L247.1 23.8M83.2 104.6L86.2 102.8M115.4 71.5L122.4 64.2L159.7 45.5L244.2 22.4M80.2 100.3L84.2 98.4M108.3 73.2L119.4 62.2L156.7 44.1L241.2 21M77.1 96.4L81.1 94.6L82.1 93.6M102.3 73.6L115.4 60.9L116.4 60.2L153.7 42.7L238.3 19.5M74.1 92.5L78.1 91L79.1 90M98.2 71.6L112.3 58.5L150.7 41.3L235.3 18.1M71 88.9L75 87.5L77.1 85.5M89.1 74.3L108.3 56.8L147.7 39.9L232.4 16.7M68 85.3L72 84L74 82.2M79 77.6L104.3 55.1L144.7 38.4L229.4 15.3M64.9 82L68.9 80.7L100.2 53.5L101.2 53L141.7 37L226.5 13.9M61.9 78.7L65.9 77.5L96.2 52L97.2 51.4L138.7 35.6L223.5 12.4M58.8 75.5L62.9 74.4L93.2 49.8L135.7 34.2L220.6 11M55.8 72.4L59.8 71.2L89.1 48.2L132.7 32.8L217.6 9.6M52.7 69.4L56.8 68.3L85.1 46.6L129.7 31.4L214.7 8.2M49.7 66.7L53.7 65.6L81 45.1L126.6 30L211.7 6.8M46.6 64.3L50.7 63.2L77 43.6L123.6 28.6L208.8 5.4M43.6 61.9L47.6 60.8L73 42.2L120.6 27.2L205.8 3.9M40.5 59.6L44.6 58.5L68.9 40.8L117.6 25.8L202.9 2.5M37.5 57.4L41.5 56.2L64.9 39.5L114.6 24.4L199.9 1.1M34.4 55L38.5 53.9L60.8 38.1L111.6 22.9L197 -0.3" stroke="#ff0000" stroke-width="0.95" fill="none" stroke-linejoin="round"/>
<path d="M156.5 222.5L34.4 166.5M156.5 222.5L314.9 178.9M314.9 178.9L314.9 56.4M34.4 166.5L31.4 166.1M34.4 142L31.4 141.6M34.4 117.5L31.4 117.1M34.4 93L31.4 92.6M34.4 68.5L31.4 68.1M34.4 44L31.4 43.6M156.5 222.5L155.3 225.1M126 208.5L124.8 211.1M95.5 194.5L94.2 197.1M64.9 180.5L63.7 183.1M34.4 166.5L33.2 169.1M156.5 222.5L158 225M196.1 211.6L197.6 214.1M235.7 200.7L237.2 203.2M275.3 189.8L276.8 192.3M314.9 178.9L316.4 181.4" stroke="#262626" stroke-width=".9" fill="none"/>
<text x="27" y="168.3" font-size="8.9" text-anchor="end" font-family="Liberation Sans, sans-serif" fill="#404040" >0</text>
<text x="27" y="143.8" font-size="8.9" text-anchor="end" font-family="Liberation Sans, sans-serif" fill="#404040" >0.2</text>
<text x="27" y="119.3" font-size="8.9" text-anchor="end" font-family="Liberation Sans, sans-serif" fill="#404040" >0.4</text>
<text x="27" y="94.8" font-size="8.9" text-anchor="end" font-family="Liberation Sans, sans-serif" fill="#404040" >0.6</text>
<text x="27" y="70.3" font-size="8.9" text-anchor="end" font-family="Liberation Sans, sans-serif" fill="#404040" >0.8</text>
<text x="27" y="45.8" font-size="8.9" text-anchor="end" font-family="Liberation Sans, sans-serif" fill="#404040" >1</text>
<text x="26.6" y="178.3" font-size="8.9" text-anchor="end" font-family="Liberation Sans, sans-serif" fill="#404040" >20</text>
<text x="57.1" y="192.3" font-size="8.9" text-anchor="end" font-family="Liberation Sans, sans-serif" fill="#404040" >15</text>
<text x="87.7" y="206.3" font-size="8.9" text-anchor="end" font-family="Liberation Sans, sans-serif" fill="#404040" >10</text>
<text x="118.2" y="220.3" font-size="8.9" text-anchor="end" font-family="Liberation Sans, sans-serif" fill="#404040" >5</text>
<text x="148.7" y="234.3" font-size="8.9" text-anchor="end" font-family="Liberation Sans, sans-serif" fill="#404040" >0</text>
<text x="162.9" y="235.8" font-size="8.9" text-anchor="start" font-family="Liberation Sans, sans-serif" fill="#404040" >0</text>
<text x="202.5" y="224.9" font-size="8.9" text-anchor="start" font-family="Liberation Sans, sans-serif" fill="#404040" >0.5</text>
<text x="242.1" y="214" font-size="8.9" text-anchor="start" font-family="Liberation Sans, sans-serif" fill="#404040" >1</text>
<text x="281.7" y="203.1" font-size="8.9" text-anchor="start" font-family="Liberation Sans, sans-serif" fill="#404040" >1.5</text>
<text x="321.3" y="192.2" font-size="8.9" text-anchor="start" font-family="Liberation Sans, sans-serif" fill="#404040" >2</text>
</g>
<g id="plot-b">
<path d="M25.3 443.4L25.3 314.4M33.6 441.1L33.7 312.1M41.8 438.8L42.1 309.9M50.1 436.5L50.5 307.6M58.4 434.3L58.9 305.4M66.7 432L67.3 303.1M74.9 429.7L75.7 300.9M83.2 427.4L84.1 298.6M91.5 425.1L92.5 296.4M99.7 422.8L100.9 294.1M108 420.6L109.3 291.9M116.3 418.3L117.7 289.6M124.5 416L126.1 287.3M132.8 413.7L134.5 285.1M141.1 411.4L142.9 282.8M149.4 409.1L151.3 280.6M157.6 406.8L159.7 278.3M165.9 404.6L168.1 276.1M174.2 402.3L176.5 273.8M182.4 400L184.9 271.6M190.7 397.7L193.3 269.3M25.3 443.4L190.7 397.7M190.7 397.7L321.2 457M25.3 436.9L190.8 391.3M190.8 391.3L321.2 450.6M25.3 430.5L191 384.9M191 384.9L321.2 444.1M25.3 424L191.1 378.4M191.1 378.4L321.2 437.6M25.3 417.6L191.2 372M191.2 372L321.2 431.2M25.3 411.1L191.3 365.6M191.3 365.6L321.2 424.8M25.3 404.7L191.5 359.2M191.5 359.2L321.2 418.3M25.3 398.2L191.6 352.8M191.6 352.8L321.2 411.9M25.3 391.8L191.7 346.3M191.7 346.3L321.2 405.4M25.3 385.3L191.9 339.9M191.9 339.9L321.2 398.9M25.3 378.9L192 333.5M192 333.5L321.2 392.5M25.3 372.4L192.1 327.1M192.1 327.1L321.2 386.1M25.3 366L192.3 320.7M192.3 320.7L321.2 379.6M25.3 359.5L192.4 314.2M192.4 314.2L321.2 373.1M25.3 353.1L192.5 307.8M192.5 307.8L321.2 366.7M25.3 346.6L192.6 301.4M192.6 301.4L321.2 360.2M25.3 340.2L192.8 295M192.8 295L321.2 353.8M25.3 333.8L192.9 288.6M192.9 288.6L321.2 347.4M25.3 327.3L193 282.1M193 282.1L321.2 340.9M25.3 320.8L193.2 275.7M193.2 275.7L321.2 334.4M25.3 314.4L193.3 269.3M193.3 269.3L321.2 328M321.2 457L321.2 328M314.7 454L314.8 325.1M308.1 451.1L308.4 322.1M301.6 448.1L302 319.2M295.1 445.1L295.6 316.3M288.6 442.2L289.2 313.3M282 439.2L282.8 310.4M275.5 436.2L276.4 307.5M269 433.3L270 304.5M262.5 430.3L263.6 301.6M255.9 427.4L257.2 298.7M249.4 424.4L250.9 295.7M242.9 421.4L244.5 292.8M236.4 418.5L238.1 289.8M229.8 415.5L231.7 286.9M223.3 412.5L225.3 284M216.8 409.6L218.9 281M210.3 406.6L212.5 278.1M203.8 403.6L206.1 275.2M197.2 400.7L199.7 272.2M190.7 397.7L193.3 269.3" stroke="#f3f3f3" stroke-width=".6" fill="none"/>
<path d="M25.3 443.4L25.3 314.4M66.7 432L67.3 303.1M108 420.6L109.3 291.9M149.4 409.1L151.3 280.6M190.7 397.7L193.3 269.3M25.3 443.4L190.7 397.7M190.7 397.7L321.2 457M25.3 417.6L191.2 372M191.2 372L321.2 431.2M25.3 391.8L191.7 346.3M191.7 346.3L321.2 405.4M25.3 366L192.3 320.7M192.3 320.7L321.2 379.6M25.3 340.2L192.8 295M192.8 295L321.2 353.8M25.3 314.4L193.3 269.3M193.3 269.3L321.2 328M321.2 457L321.2 328M288.6 442.2L289.2 313.3M255.9 427.4L257.2 298.7M223.3 412.5L225.3 284M190.7 397.7L193.3 269.3" stroke="#e2e2e2" stroke-width=".7" fill="none"/>
<polygon points="155.8,502.7 25.3,443.4 190.7,397.7 321.2,457" fill="#4329b6"/>
<polygon points="188.9,493.6 193,492.4 189.8,490.9 185.6,492.1" fill="#5ccc76"/>
<polygon points="193,492.4 284,467.3 280.7,465.8 189.8,490.9" fill="#f9fb15"/>
<polygon points="284,467.3 288.1,466.1 284.9,464.7 280.7,465.8" fill="#f5e327"/>
<polygon points="288.1,466.1 292.3,465 289,463.5 284.9,464.7" fill="#94ca4a"/>
<polygon points="292.3,465 300.5,462.7 297.3,461.2 289,463.5" fill="#5ccc76"/>
<polygon points="300.5,462.7 304.7,461.6 301.4,460.1 297.3,461.2" fill="#34c79c"/>
<polygon points="304.7,461.6 312.9,459.3 309.7,457.8 301.4,460.1" fill="#12beb9"/>
<polygon points="312.9,459.3 317.1,458.1 313.8,456.7 309.7,457.8" fill="#0cb3d3"/>
<polygon points="317.1,458.1 321.2,457 317.9,455.5 313.8,456.7" fill="#21a3e3"/>
<polygon points="185.6,492.1 189.8,490.9 186.5,489.5 182.4,490.6" fill="#5ccc76"/>
<polygon points="189.8,490.9 280.7,465.8 277.5,464.3 186.5,489.5" fill="#f9fb15"/>
<polygon points="280.7,465.8 284.9,464.7 281.6,463.2 277.5,464.3" fill="#f5e327"/>
<polygon points="284.9,464.7 289,463.5 285.7,462 281.6,463.2" fill="#94ca4a"/>
<polygon points="289,463.5 293.1,462.4 289.9,460.9 285.7,462" fill="#5ccc76"/>
<polygon points="293.1,462.4 297.3,461.2 294,459.7 289.9,460.9" fill="#34c79c"/>
<polygon points="297.3,461.2 305.5,458.9 302.3,457.5 294,459.7" fill="#12beb9"/>
<polygon points="305.5,458.9 309.7,457.8 306.4,456.3 302.3,457.5" fill="#0cb3d3"/>
<polygon points="309.7,457.8 317.9,455.5 314.7,454 306.4,456.3" fill="#21a3e3"/>
<polygon points="182.4,490.6 186.5,489.5 183.2,488 179.1,489.1" fill="#5ccc76"/>
<polygon points="186.5,489.5 277.5,464.3 274.2,462.8 183.2,488" fill="#f9fb15"/>
<polygon points="277.5,464.3 281.6,463.2 278.3,461.7 274.2,462.8" fill="#f5e327"/>
<polygon points="281.6,463.2 289.9,460.9 286.6,459.4 278.3,461.7" fill="#34c79c"/>
<polygon points="289.9,460.9 298.1,458.6 294.9,457.1 286.6,459.4" fill="#12beb9"/>
<polygon points="298.1,458.6 302.3,457.5 299,456 294.9,457.1" fill="#0cb3d3"/>
<polygon points="302.3,457.5 306.4,456.3 303.1,454.8 299,456" fill="#21a3e3"/>
<polygon points="306.4,456.3 314.7,454 311.4,452.6 303.1,454.8" fill="#2c90f0"/>
<polygon points="179.1,489.1 183.2,488 180,486.5 175.8,487.6" fill="#5ccc76"/>
<polygon points="183.2,488 274.2,462.8 270.9,461.4 180,486.5" fill="#f9fb15"/>
<polygon points="274.2,462.8 282.5,460.6 279.2,459.1 270.9,461.4" fill="#34c79c"/>
<polygon points="282.5,460.6 286.6,459.4 283.3,457.9 279.2,459.1" fill="#12beb9"/>
<polygon points="286.6,459.4 294.9,457.1 291.6,455.6 283.3,457.9" fill="#0cb3d3"/>
<polygon points="294.9,457.1 299,456 295.7,454.5 291.6,455.6" fill="#21a3e3"/>
<polygon points="299,456 303.1,454.8 299.9,453.4 295.7,454.5" fill="#2c90f0"/>
<polygon points="175.8,487.6 180,486.5 176.7,485 172.6,486.1" fill="#5ccc76"/>
<polygon points="180,486.5 266.8,462.5 263.5,461 176.7,485" fill="#f9fb15"/>
<polygon points="266.8,462.5 270.9,461.4 267.7,459.9 263.5,461" fill="#34c79c"/>
<polygon points="270.9,461.4 279.2,459.1 275.9,457.6 267.7,459.9" fill="#12beb9"/>
<polygon points="279.2,459.1 283.3,457.9 280.1,456.4 275.9,457.6" fill="#0cb3d3"/>
<polygon points="283.3,457.9 291.6,455.6 288.3,454.2 280.1,456.4" fill="#21a3e3"/>
<polygon points="291.6,455.6 295.7,454.5 292.5,453 288.3,454.2" fill="#2c90f0"/>
<polygon points="172.6,486.1 176.7,485 173.4,483.5 169.3,484.7" fill="#5ccc76"/>
<polygon points="176.7,485 255.3,463.3 252,461.8 173.4,483.5" fill="#f9fb15"/>
<polygon points="255.3,463.3 259.4,462.2 256.1,460.7 252,461.8" fill="#5ccc76"/>
<polygon points="259.4,462.2 263.5,461 260.3,459.5 256.1,460.7" fill="#34c79c"/>
<polygon points="263.5,461 271.8,458.7 268.5,457.2 260.3,459.5" fill="#12beb9"/>
<polygon points="271.8,458.7 275.9,457.6 272.7,456.1 268.5,457.2" fill="#0cb3d3"/>
<polygon points="275.9,457.6 284.2,455.3 280.9,453.8 272.7,456.1" fill="#21a3e3"/>
<polygon points="284.2,455.3 288.3,454.2 285.1,452.7 280.9,453.8" fill="#2c90f0"/>
<polygon points="169.3,484.7 173.4,483.5 170.2,482 166,483.2" fill="#5ccc76"/>
<polygon points="173.4,483.5 247.9,463 244.6,461.5 170.2,482" fill="#f9fb15"/>
<polygon points="247.9,463 256.1,460.7 252.9,459.2 244.6,461.5" fill="#34c79c"/>
<polygon points="256.1,460.7 260.3,459.5 257,458 252.9,459.2" fill="#12beb9"/>
<polygon points="260.3,459.5 268.5,457.2 265.3,455.8 257,458" fill="#0cb3d3"/>
<polygon points="268.5,457.2 272.7,456.1 269.4,454.6 265.3,455.8" fill="#21a3e3"/>
<polygon points="272.7,456.1 276.8,455 273.6,453.5 269.4,454.6" fill="#2c90f0"/>
<polygon points="133,492.3 149.5,487.8 146.2,486.3 129.7,490.8" fill="#4536d5"/>
<polygon points="166,483.2 170.2,482 166.9,480.6 162.8,481.7" fill="#5ccc76"/>
<polygon points="170.2,482 240.5,462.6 237.2,461.1 166.9,480.6" fill="#f9fb15"/>
<polygon points="240.5,462.6 244.6,461.5 241.3,460 237.2,461.1" fill="#34c79c"/>
<polygon points="244.6,461.5 252.9,459.2 249.6,457.7 241.3,460" fill="#12beb9"/>
<polygon points="252.9,459.2 257,458 253.8,456.6 249.6,457.7" fill="#0cb3d3"/>
<polygon points="257,458 265.3,455.8 262,454.3 253.8,456.6" fill="#21a3e3"/>
<polygon points="265.3,455.8 269.4,454.6 266.2,453.1 262,454.3" fill="#2c90f0"/>
<polygon points="129.7,490.8 139.6,488.1 136.4,486.6 126.4,489.4" fill="#347afd"/>
<polygon points="139.6,488.1 143.8,487 140.5,485.5 136.4,486.6" fill="#4562fc"/>
<polygon points="143.8,487 146.2,486.3 143,484.8 140.5,485.5" fill="#484cef"/>
<polygon points="162.8,481.7 166.9,480.6 163.7,479.1 159.5,480.2" fill="#5ccc76"/>
<polygon points="166.9,480.6 233.1,462.3 229.8,460.8 163.7,479.1" fill="#f9fb15"/>
<polygon points="233.1,462.3 237.2,461.1 233.9,459.7 229.8,460.8" fill="#34c79c"/>
<polygon points="237.2,461.1 245.5,458.8 242.2,457.4 233.9,459.7" fill="#12beb9"/>
<polygon points="245.5,458.8 249.6,457.7 246.4,456.2 242.2,457.4" fill="#0cb3d3"/>
<polygon points="249.6,457.7 257.9,455.4 254.6,453.9 246.4,456.2" fill="#21a3e3"/>
<polygon points="257.9,455.4 262,454.3 258.8,452.8 254.6,453.9" fill="#2c90f0"/>
<polygon points="126.4,489.4 136.4,486.6 133.1,485.1 123.2,487.9" fill="#0cb3d3"/>
<polygon points="136.4,486.6 140.5,485.5 137.2,484 133.1,485.1" fill="#2c90f0"/>
<polygon points="140.5,485.5 143,484.8 139.7,483.3 137.2,484" fill="#4562fc"/>
<polygon points="159.5,480.2 163.7,479.1 160.4,477.6 156.3,478.7" fill="#5ccc76"/>
<polygon points="163.7,479.1 221.5,463.1 218.3,461.6 160.4,477.6" fill="#f9fb15"/>
<polygon points="221.5,463.1 229.8,460.8 226.6,459.3 218.3,461.6" fill="#34c79c"/>
<polygon points="229.8,460.8 233.9,459.7 230.7,458.2 226.6,459.3" fill="#12beb9"/>
<polygon points="233.9,459.7 242.2,457.4 239,455.9 230.7,458.2" fill="#0cb3d3"/>
<polygon points="242.2,457.4 246.4,456.2 243.1,454.7 239,455.9" fill="#21a3e3"/>
<polygon points="246.4,456.2 250.5,455.1 247.2,453.6 243.1,454.7" fill="#2c90f0"/>
<polygon points="123.2,487.9 133.1,485.1 129.8,483.7 119.9,486.4" fill="#12beb9"/>
<polygon points="133.1,485.1 137.2,484 134,482.5 129.8,483.7" fill="#21a3e3"/>
<polygon points="137.2,484 139.7,483.3 136.5,481.8 134,482.5" fill="#347afd"/>
<polygon points="156.3,478.7 160.4,477.6 157.1,476.1 153,477.3" fill="#5ccc76"/>
<polygon points="160.4,477.6 214.1,462.7 210.9,461.3 157.1,476.1" fill="#f9fb15"/>
<polygon points="214.1,462.7 222.4,460.5 219.2,459 210.9,461.3" fill="#34c79c"/>
<polygon points="222.4,460.5 226.6,459.3 223.3,457.8 219.2,459" fill="#12beb9"/>
<polygon points="226.6,459.3 234.8,457 231.6,455.5 223.3,457.8" fill="#0cb3d3"/>
<polygon points="234.8,457 239,455.9 235.7,454.4 231.6,455.5" fill="#21a3e3"/>
<polygon points="239,455.9 243.1,454.7 239.8,453.3 235.7,454.4" fill="#2c90f0"/>
<polygon points="119.9,486.4 129.8,483.7 126.6,482.2 116.7,484.9" fill="#12beb9"/>
<polygon points="129.8,483.7 134,482.5 130.7,481 126.6,482.2" fill="#21a3e3"/>
<polygon points="134,482.5 136.5,481.8 133.2,480.3 130.7,481" fill="#347afd"/>
<polygon points="153,477.3 157.1,476.1 153.9,474.6 149.7,475.8" fill="#5ccc76"/>
<polygon points="157.1,476.1 206.7,462.4 203.5,460.9 153.9,474.6" fill="#f9fb15"/>
<polygon points="206.7,462.4 210.9,461.3 207.6,459.8 203.5,460.9" fill="#34c79c"/>
<polygon points="210.9,461.3 219.2,459 215.9,457.5 207.6,459.8" fill="#12beb9"/>
<polygon points="219.2,459 223.3,457.8 220,456.3 215.9,457.5" fill="#0cb3d3"/>
<polygon points="223.3,457.8 231.6,455.5 228.3,454.1 220,456.3" fill="#21a3e3"/>
<polygon points="231.6,455.5 235.7,454.4 232.4,452.9 228.3,454.1" fill="#2c90f0"/>
<polygon points="116.7,484.9 126.6,482.2 123.3,480.7 113.4,483.4" fill="#12beb9"/>
<polygon points="126.6,482.2 130.7,481 127.4,479.5 123.3,480.7" fill="#21a3e3"/>
<polygon points="130.7,481 133.2,480.3 129.9,478.9 127.4,479.5" fill="#347afd"/>
<polygon points="149.7,475.8 153.9,474.6 150.6,473.1 146.5,474.3" fill="#5ccc76"/>
<polygon points="153.9,474.6 195.2,463.2 192,461.7 150.6,473.1" fill="#f9fb15"/>
<polygon points="195.2,463.2 203.5,460.9 200.2,459.4 192,461.7" fill="#34c79c"/>
<polygon points="203.5,460.9 211.8,458.6 208.5,457.2 200.2,459.4" fill="#12beb9"/>
<polygon points="211.8,458.6 215.9,457.5 212.6,456 208.5,457.2" fill="#0cb3d3"/>
<polygon points="215.9,457.5 224.2,455.2 220.9,453.7 212.6,456" fill="#21a3e3"/>
<polygon points="224.2,455.2 228.3,454.1 225,452.6 220.9,453.7" fill="#2c90f0"/>
<polygon points="113.4,483.4 123.3,480.7 120,479.2 110.1,481.9" fill="#12beb9"/>
<polygon points="123.3,480.7 127.4,479.5 124.2,478.1 120,479.2" fill="#21a3e3"/>
<polygon points="127.4,479.5 129.9,478.9 126.7,477.4 124.2,478.1" fill="#347afd"/>
<polygon points="146.5,474.3 150.6,473.1 147.3,471.7 143.2,472.8" fill="#5ccc76"/>
<polygon points="150.6,473.1 187.8,462.9 184.6,461.4 147.3,471.7" fill="#f9fb15"/>
<polygon points="187.8,462.9 196.1,460.6 192.8,459.1 184.6,461.4" fill="#34c79c"/>
<polygon points="196.1,460.6 200.2,459.4 197,458 192.8,459.1" fill="#12beb9"/>
<polygon points="200.2,459.4 208.5,457.2 205.2,455.7 197,458" fill="#0cb3d3"/>
<polygon points="208.5,457.2 212.6,456 209.4,454.5 205.2,455.7" fill="#21a3e3"/>
<polygon points="212.6,456 216.8,454.9 213.5,453.4 209.4,454.5" fill="#2c90f0"/>
<polygon points="110.1,481.9 120,479.2 116.8,477.7 106.9,480.5" fill="#12beb9"/>
<polygon points="120,479.2 124.2,478.1 120.9,476.6 116.8,477.7" fill="#21a3e3"/>
<polygon points="124.2,478.1 126.7,477.4 123.4,475.9 120.9,476.6" fill="#347afd"/>
<polygon points="143.2,472.8 147.3,471.7 144.1,470.2 139.9,471.3" fill="#5ccc76"/>
<polygon points="147.3,471.7 180.4,462.5 177.2,461 144.1,470.2" fill="#f9fb15"/>
<polygon points="180.4,462.5 184.6,461.4 181.3,459.9 177.2,461" fill="#34c79c"/>
<polygon points="184.6,461.4 192.8,459.1 189.6,457.6 181.3,459.9" fill="#12beb9"/>
<polygon points="192.8,459.1 197,458 193.7,456.5 189.6,457.6" fill="#0cb3d3"/>
<polygon points="197,458 205.2,455.7 202,454.2 193.7,456.5" fill="#21a3e3"/>
<polygon points="205.2,455.7 209.4,454.5 206.1,453 202,454.2" fill="#2c90f0"/>
<polygon points="106.9,480.5 116.8,477.7 113.5,476.2 103.6,479" fill="#12beb9"/>
<polygon points="116.8,477.7 120.9,476.6 117.7,475.1 113.5,476.2" fill="#21a3e3"/>
<polygon points="120.9,476.6 123.4,475.9 120.1,474.4 117.7,475.1" fill="#347afd"/>
<polygon points="139.9,471.3 144.1,470.2 140.8,468.7 136.7,469.8" fill="#5ccc76"/>
<polygon points="144.1,470.2 168.9,463.3 165.6,461.8 140.8,468.7" fill="#94ca4a"/>
<polygon points="168.9,463.3 173,462.2 169.8,460.7 165.6,461.8" fill="#0cb3d3"/>
<polygon points="173,462.2 181.3,459.9 178,458.4 169.8,460.7" fill="#21a3e3"/>
<polygon points="181.3,459.9 189.6,457.6 186.3,456.1 178,458.4" fill="#2c90f0"/>
<polygon points="189.6,457.6 197.8,455.3 194.6,453.8 186.3,456.1" fill="#347afd"/>
<polygon points="197.8,455.3 202,454.2 198.7,452.7 194.6,453.8" fill="#4562fc"/>
<polygon points="103.6,479 113.5,476.2 110.3,474.8 100.3,477.5" fill="#12beb9"/>
<polygon points="113.5,476.2 117.7,475.1 114.4,473.6 110.3,474.8" fill="#21a3e3"/>
<polygon points="117.7,475.1 120.1,474.4 116.9,472.9 114.4,473.6" fill="#347afd"/>
<polygon points="136.7,469.8 161.5,463 158.2,461.5 133.4,468.4" fill="#2c90f0"/>
<polygon points="161.5,463 169.8,460.7 166.5,459.2 158.2,461.5" fill="#4562fc"/>
<polygon points="169.8,460.7 190.4,455 187.2,453.5 166.5,459.2" fill="#484cef"/>
<polygon points="100.3,477.5 110.3,474.8 107,473.3 97.1,476" fill="#12beb9"/>
<polygon points="110.3,474.8 114.4,473.6 111.1,472.1 107,473.3" fill="#21a3e3"/>
<polygon points="114.4,473.6 116.9,472.9 113.6,471.4 111.1,472.1" fill="#347afd"/>
<polygon points="97.1,476 107,473.3 103.7,471.8 93.8,474.5" fill="#12beb9"/>
<polygon points="107,473.3 111.1,472.1 107.9,470.6 103.7,471.8" fill="#21a3e3"/>
<polygon points="111.1,472.1 113.6,471.4 110.4,470 107.9,470.6" fill="#347afd"/>
<polygon points="93.8,474.5 103.7,471.8 100.5,470.3 90.6,473" fill="#12beb9"/>
<polygon points="103.7,471.8 107.9,470.6 104.6,469.2 100.5,470.3" fill="#21a3e3"/>
<polygon points="107.9,470.6 110.4,470 107.1,468.5 104.6,469.2" fill="#347afd"/>
<polygon points="90.6,473 100.5,470.3 97.2,468.8 87.3,471.6" fill="#12beb9"/>
<polygon points="100.5,470.3 104.6,469.2 101.3,467.7 97.2,468.8" fill="#21a3e3"/>
<polygon points="104.6,469.2 107.1,468.5 103.8,467 101.3,467.7" fill="#347afd"/>
<polygon points="87.3,471.6 97.2,468.8 93.9,467.3 84,470.1" fill="#12beb9"/>
<polygon points="97.2,468.8 101.3,467.7 98.1,466.2 93.9,467.3" fill="#21a3e3"/>
<polygon points="101.3,467.7 103.8,467 100.6,465.5 98.1,466.2" fill="#4562fc"/>
<polygon points="84,470.1 93.9,467.3 90.7,465.9 80.8,468.6" fill="#0cb3d3"/>
<polygon points="93.9,467.3 98.1,466.2 94.8,464.7 90.7,465.9" fill="#2c90f0"/>
<polygon points="98.1,466.2 100.6,465.5 97.3,464 94.8,464.7" fill="#4562fc"/>
<polygon points="80.8,468.6 90.7,465.9 87.4,464.4 77.5,467.1" fill="#0cb3d3"/>
<polygon points="90.7,465.9 94.8,464.7 91.6,463.2 87.4,464.4" fill="#2c90f0"/>
<polygon points="94.8,464.7 97.3,464 94,462.5 91.6,463.2" fill="#4562fc"/>
<polygon points="77.5,467.1 87.4,464.4 84.2,462.9 74.2,465.6" fill="#0cb3d3"/>
<polygon points="87.4,464.4 91.6,463.2 88.3,461.8 84.2,462.9" fill="#2c90f0"/>
<polygon points="91.6,463.2 94,462.5 90.8,461.1 88.3,461.8" fill="#4562fc"/>
<polygon points="74.2,465.6 84.2,462.9 80.9,461.4 71,464.2" fill="#0cb3d3"/>
<polygon points="84.2,462.9 88.3,461.8 85,460.3 80.9,461.4" fill="#2c90f0"/>
<polygon points="88.3,461.8 90.8,461.1 87.5,459.6 85,460.3" fill="#4562fc"/>
<polygon points="71,464.2 80.9,461.4 77.6,459.9 67.7,462.7" fill="#0cb3d3"/>
<polygon points="80.9,461.4 85,460.3 81.8,458.8 77.6,459.9" fill="#2c90f0"/>
<polygon points="85,460.3 87.5,459.6 84.3,458.1 81.8,458.8" fill="#4562fc"/>
<polygon points="67.7,462.7 77.6,459.9 74.4,458.4 64.5,461.2" fill="#21a3e3"/>
<polygon points="77.6,459.9 81.8,458.8 78.5,457.3 74.4,458.4" fill="#2c90f0"/>
<polygon points="81.8,458.8 84.3,458.1 81,456.6 78.5,457.3" fill="#4562fc"/>
<polygon points="64.5,461.2 74.4,458.4 71.1,457 61.2,459.7" fill="#21a3e3"/>
<polygon points="74.4,458.4 78.5,457.3 75.2,455.8 71.1,457" fill="#2c90f0"/>
<polygon points="78.5,457.3 81,456.6 77.7,455.1 75.2,455.8" fill="#4562fc"/>
<polygon points="61.2,459.7 71.1,457 67.8,455.5 57.9,458.2" fill="#21a3e3"/>
<polygon points="71.1,457 75.2,455.8 72,454.3 67.8,455.5" fill="#2c90f0"/>
<polygon points="75.2,455.8 77.7,455.1 74.5,453.7 72,454.3" fill="#4562fc"/>
<polygon points="57.9,458.2 67.8,455.5 64.6,454 54.7,456.7" fill="#21a3e3"/>
<polygon points="67.8,455.5 72,454.3 68.7,452.9 64.6,454" fill="#2c90f0"/>
<polygon points="72,454.3 74.5,453.7 71.2,452.2 68.7,452.9" fill="#4562fc"/>
<polygon points="54.7,456.7 64.6,454 61.3,452.5 51.4,455.3" fill="#21a3e3"/>
<polygon points="64.6,454 68.7,452.9 65.5,451.4 61.3,452.5" fill="#2c90f0"/>
<polygon points="68.7,452.9 71.2,452.2 67.9,450.7 65.5,451.4" fill="#4562fc"/>
<polygon points="51.4,455.3 61.3,452.5 58.1,451 48.1,453.8" fill="#21a3e3"/>
<polygon points="61.3,452.5 65.5,451.4 62.2,449.9 58.1,451" fill="#347afd"/>
<polygon points="65.5,451.4 67.9,450.7 64.7,449.2 62.2,449.9" fill="#4562fc"/>
<polygon points="48.1,453.8 58.1,451 54.8,449.6 44.9,452.3" fill="#2c90f0"/>
<polygon points="58.1,451 62.2,449.9 58.9,448.4 54.8,449.6" fill="#347afd"/>
<polygon points="62.2,449.9 64.7,449.2 61.4,447.7 58.9,448.4" fill="#484cef"/>
<polygon points="44.9,452.3 54.8,449.6 51.5,448.1 41.6,450.8" fill="#2c90f0"/>
<polygon points="54.8,449.6 58.9,448.4 55.7,446.9 51.5,448.1" fill="#347afd"/>
<polygon points="58.9,448.4 61.4,447.7 58.2,446.2 55.7,446.9" fill="#484cef"/>
<polygon points="41.6,450.8 51.5,448.1 48.3,446.6 38.4,449.3" fill="#347afd"/>
<polygon points="51.5,448.1 55.7,446.9 52.4,445.4 48.3,446.6" fill="#4562fc"/>
<polygon points="55.7,446.9 58.2,446.2 54.9,444.8 52.4,445.4" fill="#484cef"/>
<polygon points="38.4,449.3 48.3,446.6 45,445.1 35.1,447.8" fill="#347afd"/>
<polygon points="48.3,446.6 52.4,445.4 49.1,444 45,445.1" fill="#4562fc"/>
<polygon points="52.4,445.4 54.9,444.8 51.6,443.3 49.1,444" fill="#484cef"/>
<polygon points="35.1,447.8 45,445.1 41.7,443.6 31.8,446.4" fill="#4562fc"/>
<polygon points="45,445.1 49.1,444 45.9,442.5 41.7,443.6" fill="#484cef"/>
<polygon points="49.1,444 51.6,443.3 48.4,441.8 45.9,442.5" fill="#4536d5"/>
<polygon points="31.8,446.4 41.7,443.6 38.5,442.1 28.6,444.9" fill="#4562fc"/>
<polygon points="41.7,443.6 45.9,442.5 42.6,441 38.5,442.1" fill="#484cef"/>
<polygon points="45.9,442.5 48.4,441.8 45.1,440.3 42.6,441" fill="#4536d5"/>
<polygon points="28.6,444.9 38.5,442.1 35.2,440.7 25.3,443.4" fill="#484cef"/>
<polygon points="38.5,442.1 45.1,440.3 41.8,438.8 35.2,440.7" fill="#4536d5"/>
<path d="M155.8 502.7L25.3 443.4M160.8 501.3L30.3 442M165.7 500L35.2 440.7M169.9 498.8L39.4 439.5M172.3 498.1L41.8 438.8M176.5 497L46 437.7M180.6 495.8L50.1 436.5M184.7 494.7L54.2 435.4M188.9 493.6L58.4 434.3M193 492.4L62.5 433.1M197.2 491.3L66.7 432M201.3 490.1L70.8 430.8M205.4 489L74.9 429.7M209.6 487.8L79.1 428.5M213.7 486.7L83.2 427.4M217.8 485.6L87.3 426.3M222 484.4L91.5 425.1M226.1 483.3L95.6 424M230.2 482.1L99.7 422.8M234.4 481L103.9 421.7M238.5 479.9L108 420.6M242.6 478.7L112.1 419.4M246.8 477.6L116.3 418.3M250.9 476.4L120.4 417.1M255 475.3L124.5 416M259.2 474.1L128.7 414.8M263.3 473L132.8 413.7M267.4 471.9L136.9 412.6M271.6 470.7L141.1 411.4M275.7 469.6L145.2 410.3M279.9 468.4L149.4 409.1M284 467.3L153.5 408M288.1 466.1L157.6 406.8M292.3 465L161.8 405.7M296.4 463.9L165.9 404.6M300.5 462.7L170 403.4M304.7 461.6L174.2 402.3M308.8 460.4L178.3 401.1M312.9 459.3L182.4 400M317.1 458.1L186.6 398.8M321.2 457L190.7 397.7M155.8 502.7L321.2 457M152.5 501.2L317.9 455.5M149.3 499.7L314.7 454M146 498.3L311.4 452.6M142.8 496.8L308.1 451.1M139.5 495.3L304.9 449.6M136.2 493.8L301.6 448.1M133 492.3L298.4 446.6M129.7 490.8L295.1 445.1M126.4 489.4L291.8 443.7M123.2 487.9L288.6 442.2M119.9 486.4L285.3 440.7M116.7 484.9L282 439.2M113.4 483.4L278.8 437.7M110.1 481.9L275.5 436.2M106.9 480.5L272.3 434.8M103.6 479L269 433.3M100.3 477.5L265.7 431.8M97.1 476L262.5 430.3M93.8 474.5L259.2 428.8M90.6 473L255.9 427.4M87.3 471.6L252.7 425.9M84 470.1L249.4 424.4M80.8 468.6L246.2 422.9M77.5 467.1L242.9 421.4M74.2 465.6L239.6 419.9M71 464.2L236.4 418.5M67.7 462.7L233.1 417M64.5 461.2L229.8 415.5M61.2 459.7L226.6 414M57.9 458.2L223.3 412.5M54.7 456.7L220.1 411M51.4 455.3L216.8 409.6M48.1 453.8L213.5 408.1M44.9 452.3L210.3 406.6M41.6 450.8L207 405.1M38.4 449.3L203.8 403.6M35.1 447.8L200.5 402.1M31.8 446.4L197.2 400.7M28.6 444.9L194 399.2M25.3 443.4L190.7 397.7" stroke="#000" stroke-opacity="0.72" stroke-width="0.7" fill="none"/>
<path d="M25.3 314.4L193.3 269.3M25.3 443.4L25.3 314.4" stroke="#3c3c3c" stroke-width=".8" fill="none"/>
<polygon points="155.8,502.7 155,502.3 154.2,502 153.4,501.6 152.5,501.2 151.7,500.8 150.9,500.5 150.1,500.1 149.3,499.7 148.5,499.4 147.6,499 146.8,498.6 146,498.3 145.2,497.9 144.4,497.5 143.6,497.1 142.8,496.8 141.9,496.4 141.1,496 140.3,495.7 139.5,495.3 138.7,494.9 137.9,494.5 137,494.2 136.2,493.8 135.4,493.4 134.6,493.1 133.8,492.7 133,492.3 132.1,492 131.3,491.6 130.5,491.2 129.7,490.8 128.9,490.5 128.1,490.1 127.3,489.7 126.4,489.4 125.6,489 124.8,488.6 124,488.2 123.2,487.9 122.4,487.5 121.5,487.1 120.7,486.8 119.9,486.4 119.1,486 118.3,485.5 117.5,485 116.7,484.4 115.8,483.7 115,483.1 114.2,482.4 113.4,481.7 112.6,480.9 111.8,479.9 110.9,478.7 110.1,477.4 109.3,475.9 108.5,474.3 107.7,472.8 106.9,471 106,469.2 105.2,467.1 104.4,465 103.6,462.7 102.8,460.2 102,457.5 101.2,454.6 100.3,451.6 99.5,448.6 98.7,445.7 97.9,442.9 97.1,440.1 96.3,437.3 95.4,434.5 94.6,431.6 93.8,428.7 93,425.8 92.2,422.8 91.4,419.9 90.6,417 89.7,414 88.9,411.1 88.1,408.1 87.3,405.2 86.5,402.3 85.7,399.3 84.8,396.3 84,393.5 83.2,390.8 82.4,388.5 81.6,386.5 80.8,384.7 79.9,383 79.1,381.5 78.3,380 77.5,378.6 76.7,377.2 75.9,375.9 75.1,374.6 74.2,373.3 73.4,372 72.6,370.7 71.8,369.4 71,368.2 70.2,366.9 69.3,365.7 68.5,364.5 67.7,363.3 66.9,362.1 66.1,360.9 65.3,359.8 64.4,358.7 63.6,357.6 62.8,356.6 62,355.6 61.2,354.6 60.4,353.6 59.6,352.7 58.7,351.8 57.9,350.9 57.1,349.9 56.3,349 55.5,348.1 54.7,347.2 53.8,346.3 53,345.4 52.2,344.5 51.4,343.7 50.6,342.9 49.8,342 49,341.3 48.1,340.5 47.3,339.8 46.5,339.1 45.7,338.4 44.9,337.7 44.1,337.1 43.2,336.6 42.4,336 41.6,335.5 40.8,335 40,334.5 39.2,334 38.4,333.5 37.5,333 36.7,332.6 35.9,332.1 35.1,331.6 34.3,331.1 33.5,330.7 32.6,330.2 31.8,329.8 31,329.3 30.2,328.9 29.4,328.5 28.6,328.1 27.7,327.7 26.9,327.3 26.1,326.9 25.3,326.5 25.3,326.5 26.3,326.2 27.4,326 28.4,325.7 29.5,325.4 30.5,324.6 31.6,323.8 32.6,323.1 33.7,322.3 34.7,321.5 35.8,320.7 36.8,320 37.9,319.2 38.9,318.4 40,317.6 41,316.9 42.1,316.1 43.1,315.3 44.2,314.5 45.2,313.8 46.3,313 47.3,312.2 48.4,311.4 49.4,310.7 50.5,309.9 51.5,309.1 52.6,308.5 53.6,308.2 54.7,307.9 55.7,307.6 56.8,307.3 57.8,307 58.9,306.6 59.9,306.3 61,306 62,305.7 63.1,305.4 64.1,305.1 65.2,304.8 66.2,304.5 67.3,304.2 68.3,303.9 69.4,303.5 70.4,303.2 71.5,302.9 72.5,302.6 73.6,302.3 74.6,302 75.7,301.7 76.7,301.4 77.8,301.1 78.8,300.7 79.9,300.4 80.9,300.1 82,299.8 83,299.5 84.1,299.2 85.1,298.9 86.2,298.6 87.2,298.3 88.3,297.9 89.3,297.6 90.4,297.3 91.4,297 92.5,296.7 93.5,296.4 94.6,296.1 95.6,295.8 96.7,295.5 97.7,295.2 98.8,294.8 99.8,294.5 100.9,294.2 101.9,293.9 103,293.6 104,293.3 105.1,293 106.2,292.7 107.2,292.4 108.2,292.1 109.3,291.9 110.3,291.6 111.4,291.3 112.4,291 113.5,290.7 114.5,290.4 115.6,290.2 116.7,289.9 117.7,289.6 118.8,289.3 119.8,289 120.8,288.7 121.9,288.5 123,288.2 124,287.9 125,287.6 126.1,287.3 127.2,287.1 128.2,286.8 129.2,286.5 130.3,286.2 131.4,285.9 132.4,285.6 133.5,285.4 134.5,285.1 135.6,284.8 136.6,284.5 137.7,284.2 138.7,284 139.8,283.7 140.8,283.4 141.8,283.1 142.9,282.8 143.9,282.5 145,282.3 146,282 147.1,281.7 148.1,281.4 149.2,281.1 150.2,280.9 151.3,280.6 152.4,280.3 153.4,280 154.5,279.7 155.5,279.4 156.5,279.2 157.6,278.9 158.7,278.6 159.7,278.3 160.8,278 161.8,277.8 162.8,277.5 163.9,277.2 164.9,276.9 166,276.6 167,276.3 168.1,276.1 169.2,275.8 170.2,275.5 171.3,275.2 172.3,274.9 173.4,274.7 174.4,274.4 175.5,274.1 176.5,273.8 177.6,273.5 178.6,273.2 179.7,273 180.7,272.7 181.8,272.4 182.8,272.1 183.9,271.8 184.9,271.6 186,271.3 187,271 188.1,270.7 189.1,270.4 190.2,270.1 191.2,269.9 192.2,269.6 193.3,269.3 193.3,269.3 194.1,269.7 194.9,270 195.7,270.4 196.5,270.8 197.3,271.1 198.1,271.5 198.9,271.9 199.7,272.2 200.5,272.6 201.3,273 202.1,273.3 202.9,273.7 203.7,274.1 204.5,274.4 205.3,274.8 206.1,275.2 206.9,275.5 207.7,275.9 208.5,276.3 209.3,276.6 210.1,277 210.9,277.4 211.7,277.7 212.5,278.1 213.3,278.5 214.1,278.8 214.9,279.2 215.7,279.6 216.5,279.9 217.3,280.3 218.1,280.7 218.9,281 219.7,281.4 220.5,281.8 221.3,282.1 222.1,282.5 222.9,282.9 223.7,283.2 224.5,283.6 225.3,284 226.1,284.3 226.9,284.7 227.7,285.1 228.5,285.4 229.3,285.8 230.1,286.2 230.9,286.5 231.7,286.9 232.5,287.3 233.3,287.6 234.1,288 234.9,288.4 235.7,288.7 236.5,289.1 237.3,289.5 238.1,289.8 238.9,290.2 239.7,290.6 240.5,290.9 241.3,291.3 242.1,291.7 242.9,292 243.7,292.4 244.5,292.8 245.3,293.1 246.1,293.5 246.9,293.9 247.7,294.2 248.5,294.6 249.3,295 250.1,295.3 250.9,295.7 251.7,296.1 252.5,296.4 253.3,296.8 254.1,297.2 254.9,297.5 255.7,297.9 256.5,298.3 257.2,298.7 258,299 258.8,299.4 259.6,299.8 260.4,300.1 261.2,300.5 262,300.9 262.8,301.2 263.6,301.6 264.4,302 265.2,302.3 266,302.7 266.8,303.1 267.6,303.4 268.4,303.8 269.2,304.2 270,304.5 270.8,304.9 271.6,305.3 272.4,305.6 273.2,306 274,306.4 274.8,306.7 275.6,307.1 276.4,307.5 277.2,307.8 278,308.2 278.8,308.6 279.6,308.9 280.4,309.3 281.2,309.7 282,310 282.8,310.4 283.6,310.8 284.4,311.1 285.2,311.5 286,311.9 286.8,312.2 287.6,312.6 288.4,313 289.2,313.3 290,313.7 290.8,314.1 291.6,314.4 292.4,314.8 293.2,315.2 294,315.5 294.8,315.9 295.6,316.3 296.4,316.6 297.2,317 298,317.4 298.8,317.7 299.6,318.1 300.4,318.5 301.2,318.8 302,319.2 302.8,319.6 303.6,319.9 304.4,320.3 305.2,320.7 306,321 306.8,321.4 307.6,321.8 308.4,322.1 309.2,322.5 310,322.9 310.8,323.2 311.6,323.6 312.4,324 313.2,324.3 314,324.7 314.8,325.1 315.6,325.4 316.4,325.8 317.2,326.2 318,326.5 318.8,326.9 319.6,327.3 320.4,327.6 321.2,328 321.2,328 320.2,328.3 319.1,328.6 318.1,328.9 317.1,329.1 316,329.4 315,329.7 314,330 312.9,330.3 311.9,330.6 310.9,330.9 309.8,331.1 308.8,331.4 307.8,331.7 306.7,332 305.7,332.3 304.7,332.6 303.6,332.9 302.6,333.1 301.6,333.4 300.5,333.7 299.5,334 298.5,334.3 297.4,334.6 296.4,334.9 295.4,335.1 294.3,335.4 293.3,335.7 292.3,336 291.2,336.3 290.2,336.6 289.2,336.9 288.1,337.1 287.1,337.4 286.1,337.7 285,338 284,338.3 283,338.6 281.9,338.9 280.9,339.2 279.9,339.4 278.8,339.7 277.8,340 276.7,340.3 275.7,340.6 274.7,340.9 273.6,341.2 272.6,341.5 271.6,341.8 270.5,342.1 269.5,342.4 268.5,342.7 267.4,343 266.4,343.3 265.4,343.6 264.3,343.9 263.3,344.2 262.3,344.6 261.2,344.9 260.2,345.3 259.2,345.6 258.1,346 257.1,346.3 256.1,346.7 255,347.1 254,347.5 253,347.9 251.9,348.3 250.9,348.7 249.9,349.1 248.8,349.5 247.8,350 246.8,350.5 245.7,351 244.7,351.6 243.7,352.2 242.6,352.9 241.6,353.6 240.6,354.4 239.5,355.2 238.5,356 237.5,357.2 236.4,358.4 235.4,359.6 234.4,360.9 233.3,362.5 232.3,364.5 231.3,366.6 230.2,369 229.2,371.5 228.2,374 227.1,376.7 226.1,379.3 225.1,381.5 224,383.6 223,385.9 222,388.4 220.9,391 219.9,393.9 218.9,396.8 217.8,399.9 216.8,403.1 215.8,406.4 214.7,409.8 213.7,413.6 212.7,417.5 211.6,421.7 210.6,425.8 209.6,430 208.5,434.2 207.5,438.2 206.5,441.9 205.4,445.6 204.4,449.4 203.4,453.2 202.3,457 201.3,460.6 200.3,464 199.2,467.1 198.2,469.8 197.2,472.1 196.1,474.1 195.1,475.9 194,477.6 193,479.3 192,480.9 190.9,482.4 189.9,483.8 188.9,485.2 187.8,486.4 186.8,487.6 185.8,488.7 184.7,489.7 183.7,490.7 182.7,491.5 181.6,492.4 180.6,493.2 179.6,494 178.5,494.7 177.5,495.5 176.5,496.2 175.4,496.8 174.4,497.5 173.4,497.8 172.3,498.1 171.3,498.4 170.3,498.7 169.2,499 168.2,499.3 167.2,499.6 166.1,499.8 165.1,500.1 164.1,500.4 163,500.7 162,501 161,501.3 159.9,501.6 158.9,501.8 157.9,502.1 156.8,502.4 155.8,502.7" fill="#0f0afa" fill-opacity="0.5"/>
<polygon points="27.4,327.5 30.5,329.5 28.5,333.5" fill="#0f0afa" fill-opacity="0.5"/>
<polygon points="33,331.5 36.5,334 34.5,338" fill="#0f0afa" fill-opacity="0.5"/>
<path d="M98.8 426.2L92.3 402.9L87.4 386.9L84.1 379.9L77.6 369.7M97.2 399.6L92.3 383.6L89.9 377.8L85.8 371L76.9 358.6M125 459.1L120.2 442.9M95.8 363.9L90.1 356.7L80.3 345.2M135.8 458L130.1 436.5L118.7 390.7M94.4 343.9L91.9 341.4M137.6 417.6L130.3 386.7L123.8 363.7L120.6 355.7L119 352.8L116.5 349.2M136.2 360.7L134.6 351L131.4 345.9L127.3 341.4M160.7 408.8L158.3 397.2M129.8 461L133.9 456.3L139.1 449.6M159.9 404.9L162 397.9M121.3 456.3L125.5 451.6L129.6 445.9L134.8 437.9L139 430.5M121.2 441.5L125.3 435.2L129.5 428.2L133.7 420.6L136.8 414L138.8 410.6M120 425.3L128.3 410.7L133.5 400L137.7 392.4M119.9 406.9L126.1 395.4L130.3 386.7L133.4 380.9L137.6 372.4M98 423.2L99 421.7M119.8 388.8L132.3 365.1L133.3 362.8L136.5 353M94.7 411.5L98.9 405.3M118.6 374L122.8 366.6L123.8 363.7L127 357L132.2 347.1L136.4 343.3M91.4 400.1L97.7 391M118.5 359.5L121.6 354L125.8 347.3L128.9 343L130 342.2M88.2 389.2L97.5 376.8M117.4 350.3L124.7 340.9M84.9 381.4L97.4 366.3M117.2 342.8L120.4 339.3M81.7 375.8L96.2 359.4M78.4 370.9L96.1 352.3M78.3 363L95 346.7M77.1 356.5L93.8 341.3M77 349.7L83.2 344.3" stroke="#8a30c4" stroke-width="1.4" fill="none" stroke-linejoin="round"/>
<path d="M110.1 477.4L106 469.2L102.8 460.2L83.2 390.8L81.6 386.5L79.9 383L75.1 374.6M115.9 477.3L111.8 469.1L107.7 458.2L98.8 426.2M77.6 369.7L70.3 359.3M121.7 477.3L119.2 472.8L116.8 467.1L114.3 460.7L111.9 453.3L97.2 399.6M76.9 358.6L69.5 349.6M131.6 476.6L128.3 468.6L125 459.1M120.2 442.9L110.4 404.7L104.7 384.6L102.3 377.2L99.9 370.9L98.2 367.7L95.8 363.9M140.6 474.3L135.8 458M118.7 390.7L113.9 374.2L111.4 367.5L109 361.9L106.6 357.7L104.1 354.5L94.4 343.9M149.7 467.3L148.9 466.9L148.1 465.2L137.6 417.6M116.5 349.2L113.3 345.6L109.2 342M197.2 472.1L156.4 453.6L143.5 391L140.3 376.7L136.2 360.7M201.3 460.6L160.6 442L148.5 384.6L145.2 370.9L142.8 361.7L141.2 351.9L140.4 348.8L138 345.2L135.5 342.4M205.4 445.6L164.7 427L163.9 424.5L160.7 408.8M158.3 397.2L153.4 375.3L150.2 362.8L147.8 348.3L145.4 344.9L143 342.2M209.6 430L168.9 411.3L168.1 409.5L161.6 379.4L157.6 363.2L155.2 349.1L154.4 346.3L150.4 341.7M213.7 413.6L173.1 394.7L172.3 393.7L168.2 375.4L165 362.6L162.6 348.2L161.8 344.9L158.6 341.6M217.8 399.9L176.4 380.5L171.6 360.2L169.2 344.9L168.4 342.6L166.8 341.1M222 388.4L180.6 368.8L178.2 359.3L175 340.1L173.4 339M226.1 379.3L184.8 359.8L184 357.1L180.8 337.5L179.2 336.7M230.2 369L189 350L188.2 347.7L186.6 337.1L185.8 334.8M234.4 360.9L193.1 342.1L192.3 340.7L190.7 332.1M197.3 337.2L196.5 336.8L195.7 332.8M190.9 482.4L194 477.6L197.2 472.1L198.2 469.8L200.3 464L207.5 438.2L214.7 409.8L219.9 393.9L223 385.9L226.1 379.3L231.3 366.6L233.3 362.5L235.4 359.6M187.7 480.9L190.8 476.2L193.9 470.6L194.9 468.4L197 462.5L204.2 436.7L211.5 408.3L216.6 392.3L219.8 384.3L222.9 377.8L228 365.1L230.1 361.1L232.2 358.2M184.4 479.4L187.5 474.7L190.6 469.2L191.7 466.9L193.7 461L201 435.2L208.2 406.8L213.4 390.8L216.5 382.8L219.6 376.2L224.8 363.7L226.9 359.6L228.9 356.7M181.2 477.9L184.3 473.2L187.4 467.7L188.4 465.4L190.5 459.5L197.7 433.7L205 405.3L210.2 389.3L213.3 381.3L216.4 374.7L221.6 362.2L223.6 358.1L225.7 355.2M177.9 476.5L181 471.7L184.1 466.2L185.1 463.9L187.2 458.1L194.5 432.2L201.7 403.8L206.9 387.7L210 379.7L213.1 373.2L218.3 360.7L220.4 356.6L222.5 353.7M174.6 475L177.7 470.2L180.8 464.7L181.9 462.4L184 456.6L191.2 430.7L198.5 402.3L203.7 386.2L206.8 378.2L209.9 371.7L215.1 359.2L217.2 355.2L219.2 352.3M171.4 473.5L174.5 468.7L177.6 463.2L178.6 460.9L180.7 455.1L188 429.2L195.2 400.7L200.4 384.7L203.5 376.7L206.7 370.1L211.8 357.7L213.9 353.7L216 350.8M168.1 472L171.2 467.2L174.3 461.7L175.4 459.4L177.4 453.6L184.7 427.7L192 399.2L197.2 383.1L200.3 375.1L203.4 368.6L208.6 356.2L210.7 352.2L212.8 349.3M164.9 470.5L168 465.8L171.1 460.2L172.1 458L174.2 452.1L181.5 426.2L188.7 397.7L193.9 381.6L197.1 373.6L200.2 367.1L205.4 354.7L207.5 350.7L209.5 347.8M161.6 469L164.7 464.3L167.8 458.8L168.8 456.5L170.9 450.6L178.2 424.7L185.5 396.2L190.7 380.1L193.8 372.1L196.9 365.6L202.1 353.3L204.2 349.2L206.3 346.4M158.3 467.5L161.4 462.8L164.5 457.3L165.6 455L167.7 449.1L174.9 423.2L182.2 394.7L187.4 378.6L190.6 370.5L193.7 364L198.9 351.8L201 347.8L203.1 344.9M155.1 466L158.2 461.3L161.3 455.8L162.3 453.5L164.4 447.7L171.7 421.7L179 393.2L184.2 377L187.3 369L190.5 362.5L195.7 350.3L197.8 346.3L199.8 343.4M146.6 470.7L149.7 467.3L152.8 463.1L157 456.2L159.1 452L161.1 446.2L163.2 439.2L168.4 420.2L175.7 391.7L179.9 378.5L183 370L187.2 361L191.4 351.1L194.5 344.8L196.6 341.9M120.6 477.8L132 471.5L136.1 468.3L141.3 463.7L144.4 460.4L148.6 455.3L151.7 450.8L154.8 445.6L156.9 440.9L158.9 434.8L165.2 413.4L172.5 386.3L175.6 376.9L178.8 368.6L188.2 347.7L191.3 342.1L192.3 340.7L195.5 337.7L200.7 333.7M110.1 477.4L120.5 469.3L126.7 464L129.8 461M139.1 449.6L147.4 437L152.6 427.6L155.7 419L159.9 404.9M162 397.9L168.2 375.4L170.3 369.1L173.5 360.9L179.8 338.8L180.8 337.5L182.9 336M106.9 471L113.1 465.1L121.3 456.3M139 430.5L140 428.5L145.2 420L149.4 411.9L150.4 409.4L152.5 403.4L165 362.6L169.2 344.9L170.3 342.2L173.4 339M103.6 462.7L110.8 454.5L121.2 441.5M138.8 410.6L143 402.8L147.2 394L157.6 363.2L158.7 359.1L160.8 348.2L161.8 344.9L165 341.5M100.3 451.6L104.5 446.6L109.7 439.9L116.9 430L120 425.3M137.7 392.4L143.9 379.5L150.2 362.8L151.3 359.1L153.4 349.3L154.4 346.3L158.6 341.6M97.1 440.1L101.2 434.9L111.6 420.2L115.7 414L119.9 406.9M137.6 372.4L140.7 366.5L142.8 361.7L146 348.5L149.1 344.6L152.2 341.5M93.8 428.7L98 423.2M99 421.7L111.5 403.1L119.8 388.8M136.5 353L137.5 350.1L141.7 345.1L144.8 342.1M90.6 417L94.7 411.5M98.9 405.3L109.2 389.7L118.6 374M136.4 343.3L137.4 342.4M87.3 405.2L91.4 400.1M97.7 391L108.1 375.9L116.4 363.3L118.5 359.5M84 393.5L88.2 389.2M97.5 376.8L111.1 359.2L117.4 350.3M80.8 384.7L84.9 381.4M97.4 366.3L117.2 342.8M77.5 378.6L81.7 375.8M96.2 359.4L112.9 341.2M75.3 372.6L78.4 370.9M96.1 352.3L105.5 342.7M74.1 366.6L75.1 366.1L78.3 363M95 346.7L100.2 341.8M71.9 361.5L77.1 356.5M69.7 356.2L77 349.7M67.4 351.4L68.5 350.5" stroke="#ff0000" stroke-width="1.4" fill="none" stroke-linejoin="round"/>
<path d="M155.8 502.7L119.1 486L115.8 483.7L112.6 480.9L110.1 477.4M75.1 374.6L68.5 364.5L63.6 357.6L55.5 348.1L49.8 342L45.7 338.4L42.4 336L32.6 330.2L25.3 326.5M159.9 501.6L123.2 484.9L120.8 483.3L120 482.4L115.9 477.3M70.3 359.3L66.2 354.1L58.8 345.9L54.8 341.7L50.7 337.9L47.4 335.4L40.9 331.4L35.2 328.2L29.5 325.4M164.1 500.4L128.2 484L124.9 481.9L121.7 477.3M69.5 349.6L59.8 339.4L53.2 333.7L43.5 327.6L33.7 322.3M172.3 498.1L160.1 492.6L136.5 481.2L133.2 479.3L132.4 478.5L131.6 476.6M80.3 345.2L69.8 334.9L62.4 328.6L53.5 322.8L42.1 316.1M180.6 493.2L148.8 478.4L140.6 474.3M91.9 341.4L83.8 333.7L72.4 324.2L67.6 320.7L50.5 309.9M188.9 485.2L149.7 467.3M109.2 342L95.4 329.7L88.1 323.9L80 317.8L71.9 313.3L58.9 306.6M127.3 341.4L123.3 338.1L106.2 326.2L96.5 319.9L85.1 313.2L67.3 304.2M135.5 342.4L132.3 339.4L129.1 336.9L103.9 320.3L90.1 312.3L71.5 302.9M143 342.2L138.9 338.7L134.9 335.7L110.5 320.2L95.1 311.4L75.7 301.7M150.4 341.7L146.3 338.4L139.8 333.9L115.5 319.1L100.2 310.4L79.9 300.4M158.6 341.6L153.7 337.8L145.6 332.6L120.5 317.9L104.3 309.1L84.1 299.2M166.8 341.1L162.8 338.1L157.1 334.6L146.6 328.4L124.7 316.2L108.5 307.7L88.3 297.9M173.4 339L152.4 327.1L128.1 314.1L112.7 306.3L92.5 296.7M179.2 336.7L155.7 324.4L132.3 312.5L116.9 304.9L96.7 295.5M185.8 334.8L136.5 310.8L100.9 294.2M190.7 332.1L105.1 293M238.5 356L197.3 337.2M195.7 332.8L194.9 330.9L109.3 291.9M242.6 352.9L200.7 333.7L199.9 330.5L199.1 329.8L113.5 290.7M246.8 350.5L204.8 331.3L204 329L117.7 289.6M250.9 348.7L209 329.5L208.2 327.9L121.9 288.5M255 347.1L213.1 328L212.3 326.9L211.5 326.4L126.1 287.3M259.2 345.6L216.5 326.1L215.7 325.3L130.3 286.2M263.3 344.2L134.5 285.1M267.4 343L138.7 284M271.6 341.8L142.9 282.8M275.7 340.6L147.1 281.7M279.9 339.4L151.3 280.6M284 338.3L155.5 279.4M288.1 337.1L159.7 278.3M292.3 336L163.9 277.2M296.4 334.9L168.1 276.1M300.5 333.7L172.3 274.9M304.7 332.6L176.5 273.8M308.8 331.4L180.7 272.7M312.9 330.3L184.9 271.6M317.1 329.1L189.1 270.4M321.2 328L193.3 269.3M155.8 502.7L174.4 497.5L179.6 494L184.7 489.7L187.8 486.4L190.9 482.4M235.4 359.6L238.5 356L243.7 352.2L247.8 350L256.1 346.7L268.5 342.7L321.2 328M152.5 501.2L170.1 496.4L171.1 495.9L176.3 492.4L181.5 488.2L184.6 484.9L187.7 480.9M232.2 358.2L235.3 354.5L240.4 350.8L244.6 348.5L252.9 345.3L265.3 341.2L318 326.5M149.3 499.7L166.8 494.9L168.9 493.7L173.1 490.9L178.2 486.7L181.3 483.5L184.4 479.4M228.9 356.7L232 353L237.2 349.3L241.4 347L249.6 343.8L262 339.7L314.8 325.1M146 498.3L162.6 493.7L165.7 492.2L169.8 489.4L175 485.2L178.1 482L181.2 477.9M225.7 355.2L228.8 351.6L234 347.8L238.1 345.6L246.4 342.3L258.8 338.3L311.6 323.6M142.8 496.8L159.3 492.2L162.4 490.7L166.5 487.9L171.7 483.7L174.8 480.5L177.9 476.5M222.5 353.7L225.6 350.1L230.8 346.3L234.9 344.1L243.2 340.8L255.6 336.8L308.4 322.1M139.5 495.3L155 491L159.1 489.1L163.3 486.4L168.4 482.2L171.5 479L174.6 475M219.2 352.3L222.3 348.6L227.5 344.9L231.7 342.6L240 339.4L252.4 335.3L305.2 320.7M136.2 493.8L150.7 489.8L153.8 488.6L155.9 487.6L160 484.9L165.2 480.7L168.3 477.5L171.4 473.5M216 350.8L219.1 347.1L224.3 343.4L228.4 341.1L236.7 337.9L249.2 333.9L302 319.2M133 492.3L147.4 488.3L152.6 486.1L156.7 483.4L161.9 479.2L165 476L168.1 472M212.8 349.3L215.9 345.7L221.1 341.9L225.2 339.7L233.5 336.4L246 332.4L298.8 317.7M129.7 490.8L143.1 487.1L147.3 485.6L149.3 484.5L153.5 481.9L158.6 477.7L161.8 474.5L164.9 470.5M209.5 347.8L212.6 344.2L217.8 340.4L222 338.2L230.3 334.9L242.7 330.9L295.6 316.3M126.4 489.4L138.8 485.9L144 484L147.1 482.4L151.2 479.6L155.4 476.2L158.5 473L161.6 469M206.3 346.4L209.4 342.7L214.6 339L218.8 336.7L227.1 333.5L239.5 329.4L292.4 314.8M123.2 487.9L133.5 485L140.7 482.4L143.9 480.8L148 478L152.1 474.7L155.2 471.5L158.3 467.5M203.1 344.9L206.2 341.2L211.4 337.5L215.5 335.2L223.8 332L236.3 328L289.2 313.3M119.9 486.4L126.1 484.7L136.5 481.2L140.6 479.2L144.7 476.5L148.9 473.2L152 470L155.1 466M199.8 343.4L203 339.8L208.2 336L212.3 333.8L220.6 330.5L233.1 326.5L286 311.9M116.7 484.4L120.8 483.3L135.3 478.5L140.4 475.5L144.6 472.5L146.6 470.7M196.6 341.9L199.7 338.3L204.9 334.5L209.1 332.3L217.4 329L229.9 325L282.8 310.4M113.4 481.7L120.6 477.8M200.7 333.7L203.8 331.9L206.9 330.4L214.2 327.6L221.4 325.1L279.6 308.9M182.9 336L189.1 331.3L276.4 307.5M173.4 339L185.9 329.9L273.2 306M165 341.5L170.2 337L182.7 328.4L270 304.5M158.6 341.6L161.7 338.9L165.9 335.9L179.4 326.9L266.8 303.1M152.2 341.5L155.3 339L159.5 336.1L176.2 325.4L263.6 301.6M144.8 342.1L147.9 339.6L152.1 336.7L173 324L260.4 300.1M137.4 342.4L140.5 340L145.7 336.6L169.7 322.5L257.2 298.7M130 342.2L135.2 338.7L140.4 335.6L166.5 321L254.1 297.2M124.7 340.9L125.7 339.9L133 335.7L163.3 319.5L250.9 295.7M120.4 339.3L121.4 338.2L122.5 337.5L160 318.1L247.7 294.2M112.9 341.2L118.2 335.8L156.8 316.6L244.5 292.8M74.2 373.3L75.3 372.6M105.5 342.7L114.9 333.6L153.6 315.1L241.3 291.3M71 368.2L74.1 366.6M100.2 341.8L110.6 332L111.7 331.4L150.3 313.6L238.1 289.8M67.7 363.3L71.9 361.5M93.8 341.3L107.4 329.4L147.1 312.2L234.9 288.4M64.5 358.7L68.6 357.1L69.7 356.2M83.2 344.3L103.1 327.5L143.9 310.7L231.7 286.9M61.2 354.6L65.4 353.1L67.4 351.4M68.5 350.5L98.8 325.6L140.6 309.2L228.5 285.4M57.9 350.9L62.1 349.5L94.5 324L95.6 323.5L137.4 307.7L225.3 284M54.7 347.2L58.8 345.9L90.2 322.3L91.3 321.8L134.2 306.3L222.1 282.5M51.4 343.7L55.6 342.5L87 320.1L131 304.8L218.9 281M48.1 340.5L52.3 339.3L82.7 318.4L127.7 303.3L215.7 279.6M44.9 337.7L49.1 336.6L78.4 316.8L124.5 301.8L212.5 278.1M41.6 335.5L45.8 334.4L74.1 315.4L121.3 300.4L209.3 276.6M38.4 333.5L42.5 332.4L69.8 314L118 298.9L206.1 275.2M35.1 331.6L39.3 330.5L65.5 312.6L114.8 297.4L202.9 273.7M31.8 329.8L36 328.6L61.2 311.2L111.6 295.9L199.7 272.2M28.6 328.1L32.8 326.9L56.9 309.8L108.3 294.5L196.5 270.8M25.3 326.5L29.5 325.4L52.6 308.5L105.1 293L193.3 269.3" stroke="#ff0000" stroke-width="1.0" fill="none" stroke-linejoin="round"/>
<path d="M155.8 502.7L25.3 443.4M155.8 502.7L321.2 457M321.2 457L321.2 328M25.3 443.4L22.3 443M25.3 417.6L22.3 417.2M25.3 391.8L22.3 391.4M25.3 366L22.3 365.6M25.3 340.2L22.3 339.8M25.3 314.4L22.3 314M155.8 502.7L154.6 505.3M123.2 487.9L122 490.5M90.6 473L89.4 475.6M57.9 458.2L56.7 460.8M25.3 443.4L24.1 446M155.8 502.7L157.3 505.2M197.2 491.3L198.7 493.8M238.5 479.9L240 482.4M279.9 468.4L281.4 470.9M321.2 457L322.7 459.5" stroke="#262626" stroke-width=".9" fill="none"/>
<text x="17.9" y="445.8" font-size="9.4" text-anchor="end" font-family="Liberation Sans, sans-serif" fill="#404040" >0</text>
<text x="17.9" y="419.9" font-size="9.4" text-anchor="end" font-family="Liberation Sans, sans-serif" fill="#404040" >0.2</text>
<text x="17.9" y="394.1" font-size="9.4" text-anchor="end" font-family="Liberation Sans, sans-serif" fill="#404040" >0.4</text>
<text x="17.9" y="368.4" font-size="9.4" text-anchor="end" font-family="Liberation Sans, sans-serif" fill="#404040" >0.6</text>
<text x="17.9" y="342.6" font-size="9.4" text-anchor="end" font-family="Liberation Sans, sans-serif" fill="#404040" >0.8</text>
<text x="17.9" y="316.8" font-size="9.4" text-anchor="end" font-family="Liberation Sans, sans-serif" fill="#404040" >1</text>
<text x="16.6" y="455.8" font-size="9.4" text-anchor="end" font-family="Liberation Sans, sans-serif" fill="#404040" >20</text>
<text x="49.2" y="470.6" font-size="9.4" text-anchor="end" font-family="Liberation Sans, sans-serif" fill="#404040" >15</text>
<text x="81.9" y="485.4" font-size="9.4" text-anchor="end" font-family="Liberation Sans, sans-serif" fill="#404040" >10</text>
<text x="114.5" y="500.2" font-size="9.4" text-anchor="end" font-family="Liberation Sans, sans-serif" fill="#404040" >5</text>
<text x="147.1" y="515" font-size="9.4" text-anchor="end" font-family="Liberation Sans, sans-serif" fill="#404040" >0</text>
<text x="162.1" y="516.9" font-size="9.4" text-anchor="start" font-family="Liberation Sans, sans-serif" fill="#404040" >0</text>
<text x="203.5" y="505.4" font-size="9.4" text-anchor="start" font-family="Liberation Sans, sans-serif" fill="#404040" >0.5</text>
<text x="244.8" y="494" font-size="9.4" text-anchor="start" font-family="Liberation Sans, sans-serif" fill="#404040" >1</text>
<text x="286.2" y="482.6" font-size="9.4" text-anchor="start" font-family="Liberation Sans, sans-serif" fill="#404040" >1.5</text>
<text x="327.5" y="471.1" font-size="9.4" text-anchor="start" font-family="Liberation Sans, sans-serif" fill="#404040" >2</text>
</g>
<text x="23.9" y="36" font-size="11.5" text-anchor="start" font-family="Liberation Serif, serif" font-weight="bold" font-style="italic" fill="#000" >P<tspan font-size="7.5" dy="2.2">f</tspan></text>
<text x="76.6" y="215.8" font-size="10.3" text-anchor="middle" font-family="Liberation Serif, serif" font-weight="bold" fill="#000" >m</text>
<text x="259.6" y="225.3" font-size="10.8" text-anchor="middle" font-family="Liberation Serif, serif" font-weight="bold" fill="#000" >PGA</text>
<line x1="264.2" y1="8.7" x2="279.8" y2="8.7" stroke="#ff0000" stroke-width="2.4"/>
<rect x="264.2" y="17.6" width="15.6" height="7.4" fill="#7373f0"/>
<text x="283" y="10.9" font-size="9.8" text-anchor="start" font-family="Liberation Serif, serif" font-weight="bold" fill="#000" >DQFM</text>
<text x="283.3" y="23.1" font-size="9.8" text-anchor="start" font-family="Liberation Serif, serif" font-weight="bold" fill="#000" >Proposed</text>
<text x="338.8" y="12.2" font-size="10.0" text-anchor="start" font-family="Liberation Serif, serif" font-weight="bold" fill="#000" >Resampling</text>
<text x="338.8" y="24.8" font-size="10.0" text-anchor="start" font-family="Liberation Serif, serif" font-weight="bold" fill="#000" >rank</text>
<rect x="342.5" y="30.8" width="10.3" height="184.4" fill="url(#par)" stroke="#3c3c3c" stroke-width=".6"/>
<text x="355.4" y="217.3" font-size="5.9" text-anchor="start" font-family="Liberation Sans, sans-serif" fill="#404040" >0</text>
<text x="355.4" y="194.2" font-size="5.9" text-anchor="start" font-family="Liberation Sans, sans-serif" fill="#404040" >1</text>
<text x="355.4" y="171.2" font-size="5.9" text-anchor="start" font-family="Liberation Sans, sans-serif" fill="#404040" >2</text>
<text x="355.4" y="148.2" font-size="5.9" text-anchor="start" font-family="Liberation Sans, sans-serif" fill="#404040" >3</text>
<text x="355.4" y="125.1" font-size="5.9" text-anchor="start" font-family="Liberation Sans, sans-serif" fill="#404040" >4</text>
<text x="355.4" y="102" font-size="5.9" text-anchor="start" font-family="Liberation Sans, sans-serif" fill="#404040" >5</text>
<text x="355.4" y="79" font-size="5.9" text-anchor="start" font-family="Liberation Sans, sans-serif" fill="#404040" >6</text>
<text x="355.4" y="56" font-size="5.9" text-anchor="start" font-family="Liberation Sans, sans-serif" fill="#404040" >7</text>
<text x="355.4" y="32.9" font-size="5.9" text-anchor="start" font-family="Liberation Sans, sans-serif" fill="#404040" >8</text>
<path d="M351.2 192.1L352.8 192.1M351.2 169.1L352.8 169.1M351.2 146.1L352.8 146.1M351.2 123L352.8 123M351.2 100L352.8 100M351.2 76.9L352.8 76.9M351.2 53.9L352.8 53.9" stroke="#3c3c3c" stroke-width=".6" fill="none"/>
<text x="206.4" y="264.3" font-size="10.75" text-anchor="middle" font-family="Liberation Serif, serif" fill="#111" >(<tspan font-weight="bold">a</tspan>) H3.5R20</text>
<text x="15.8" y="306.3" font-size="12" text-anchor="start" font-family="Liberation Serif, serif" font-weight="bold" font-style="italic" fill="#000" >P<tspan font-size="7.9" dy="2.3">f</tspan></text>
<text x="68.2" y="494.8" font-size="10.8" text-anchor="middle" font-family="Liberation Serif, serif" font-weight="bold" fill="#000" >m</text>
<text x="261" y="504.4" font-size="11.3" text-anchor="middle" font-family="Liberation Serif, serif" font-weight="bold" fill="#000" >PGA</text>
<line x1="269" y1="278.6" x2="284.6" y2="278.6" stroke="#ff0000" stroke-width="2.5"/>
<rect x="269" y="287.4" width="15.8" height="7.6" fill="#7373f0"/>
<text x="287" y="281.4" font-size="10.3" text-anchor="start" font-family="Liberation Serif, serif" font-weight="bold" fill="#000" >DQFM</text>
<text x="287" y="293.6" font-size="10.3" text-anchor="start" font-family="Liberation Serif, serif" font-weight="bold" fill="#000" >Proposed</text>
<text x="345.3" y="280.7" font-size="10.1" text-anchor="start" font-family="Liberation Serif, serif" font-weight="bold" fill="#000" >Resampling</text>
<text x="345.3" y="294.8" font-size="10.1" text-anchor="start" font-family="Liberation Serif, serif" font-weight="bold" fill="#000" >rank</text>
<rect x="349.5" y="301.4" width="11.5" height="193.8" fill="url(#par)" stroke="#3c3c3c" stroke-width=".6"/>
<text x="363.7" y="497.4" font-size="6.2" text-anchor="start" font-family="Liberation Sans, sans-serif" fill="#404040" >0</text>
<text x="363.7" y="473.2" font-size="6.2" text-anchor="start" font-family="Liberation Sans, sans-serif" fill="#404040" >1</text>
<text x="363.7" y="449" font-size="6.2" text-anchor="start" font-family="Liberation Sans, sans-serif" fill="#404040" >2</text>
<text x="363.7" y="424.7" font-size="6.2" text-anchor="start" font-family="Liberation Sans, sans-serif" fill="#404040" >3</text>
<text x="363.7" y="400.5" font-size="6.2" text-anchor="start" font-family="Liberation Sans, sans-serif" fill="#404040" >4</text>
<text x="363.7" y="376.3" font-size="6.2" text-anchor="start" font-family="Liberation Sans, sans-serif" fill="#404040" >5</text>
<text x="363.7" y="352.1" font-size="6.2" text-anchor="start" font-family="Liberation Sans, sans-serif" fill="#404040" >6</text>
<text x="363.7" y="327.8" font-size="6.2" text-anchor="start" font-family="Liberation Sans, sans-serif" fill="#404040" >7</text>
<text x="363.7" y="303.6" font-size="6.2" text-anchor="start" font-family="Liberation Sans, sans-serif" fill="#404040" >8</text>
<path d="M359.4 471L361 471M359.4 446.8L361 446.8M359.4 422.5L361 422.5M359.4 398.3L361 398.3M359.4 374.1L361 374.1M359.4 349.8L361 349.8M359.4 325.6L361 325.6" stroke="#3c3c3c" stroke-width=".6" fill="none"/>
<text x="206.4" y="545.5" font-size="10.75" text-anchor="middle" font-family="Liberation Serif, serif" fill="#111" >(<tspan font-weight="bold">b</tspan>) H4R1</text>
</svg>
</body>
</html>
